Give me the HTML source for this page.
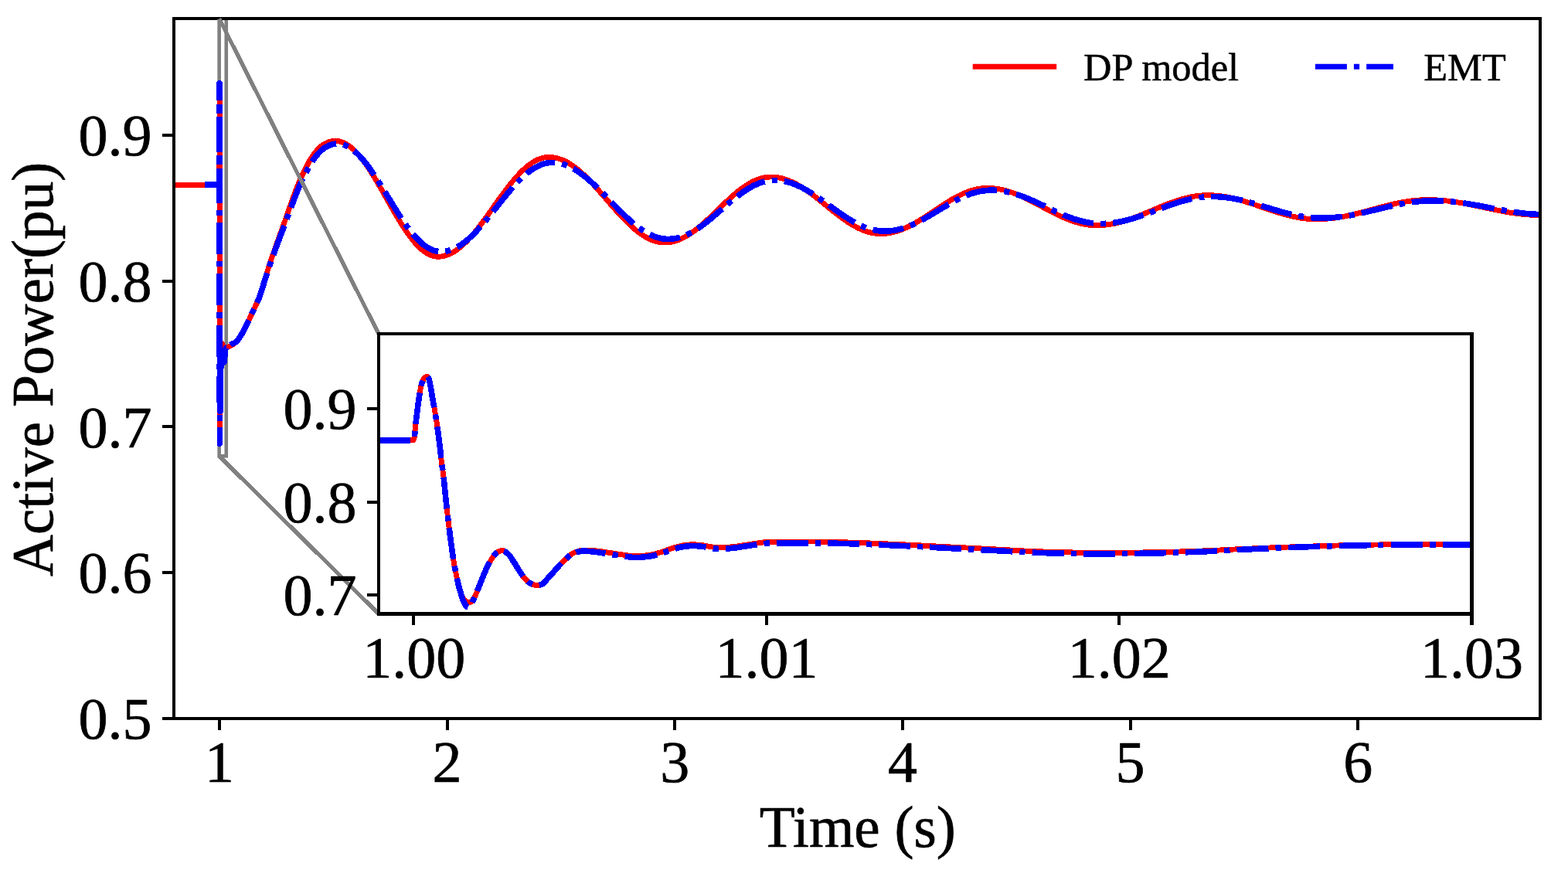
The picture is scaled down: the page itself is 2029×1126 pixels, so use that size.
<!DOCTYPE html>
<html lang="en">
<head>
<meta charset="utf-8">
<title>Active Power - DP model vs EMT</title>
<style>
html,body{margin:0;padding:0;background:#fff;}
body{width:2029px;height:1126px;overflow:hidden;}
svg{display:block;}
</style>
</head>
<body>
<svg width="2029" height="1126" viewBox="0 0 2029 1126">
<defs>
<clipPath id="cm"><rect x="225.0" y="24.0" width="1768.0" height="906.0"/></clipPath>
<clipPath id="ci"><rect x="490.0" y="432.0" width="1414.5" height="362.5"/></clipPath>
</defs>
<rect width="2029" height="1126" fill="#fff"/>
<g clip-path="url(#cm)"><rect x="283.64" y="24.00" width="9.13" height="566.25" fill="none" stroke="#808080" stroke-width="4.6"/></g>
<g clip-path="url(#cm)" fill="none" stroke-linejoin="round" shape-rendering="crispEdges">
<path d="M222.00,239.17L283.84,239.17L283.84,239.25L283.92,239.25L283.93,239.25L283.93,238.93L283.93,237.67L283.94,235.64L283.94,231.55L283.94,221.71L283.95,212.55L283.95,205.71L283.95,199.46L283.95,193.37L283.96,187.09L283.96,180.73L283.96,174.43L283.97,168.33L283.97,162.54L283.97,156.90L283.98,151.35L283.98,146.13L283.98,141.47L283.99,137.47L283.99,133.73L283.99,130.22L284.00,126.99L284.00,124.09L284.00,121.57L284.01,119.40L284.01,117.34L284.01,115.43L284.02,113.70L284.02,112.24L284.02,111.09L284.02,110.26L284.03,109.51L284.03,108.86L284.03,108.32L284.04,107.94L284.04,107.74L284.04,107.81L284.05,108.34L284.05,109.27L284.05,110.49L284.06,111.91L284.06,114.12L284.06,117.36L284.07,121.21L284.07,125.28L284.07,129.34L284.08,133.86L284.08,138.74L284.08,143.79L284.09,148.83L284.09,153.68L284.09,158.21L284.09,162.55L284.10,166.79L284.10,170.99L284.10,175.21L284.11,179.53L284.11,183.97L284.11,188.43L284.12,192.97L284.12,197.69L284.12,202.65L284.13,207.95L284.13,213.53L284.13,219.31L284.14,225.19L284.14,231.10L284.14,237.06L284.15,243.16L284.15,249.43L284.15,255.93L284.16,262.99L284.16,270.43L284.16,277.69L284.16,284.22L284.17,289.88L284.17,295.10L284.17,300.35L284.18,306.10L284.18,312.53L284.18,319.44L284.19,326.71L284.19,334.25L284.19,341.97L284.20,349.75L284.20,357.50L284.20,365.12L284.21,372.50L284.21,379.56L284.21,386.39L284.22,393.12L284.22,399.73L284.22,406.21L284.23,412.56L284.23,418.76L284.23,424.80L284.23,430.69L284.24,436.47L284.24,442.16L284.24,447.78L284.25,453.36L284.25,459.00L284.25,464.66L284.26,470.25L284.26,475.67L284.26,480.82L284.27,485.62L284.27,490.12L284.27,494.45L284.28,498.61L284.28,502.61L284.28,506.47L284.29,510.19L284.29,513.78L284.29,517.29L284.30,520.76L284.30,524.17L284.30,527.51L284.30,530.74L284.31,533.83L284.31,536.75L284.31,539.48L284.32,541.98L284.32,544.29L284.32,546.55L284.33,548.77L284.33,550.91L284.33,552.93L284.34,554.81L284.34,556.52L284.34,558.01L284.35,559.26L284.35,560.24L284.35,561.06L284.36,561.86L284.36,562.63L284.36,563.37L284.37,564.07L284.37,564.72L284.37,565.32L284.37,565.86L284.38,566.34L284.38,566.76L284.38,567.10L284.39,567.36L284.39,567.54L284.39,567.62L284.40,567.60L284.40,567.39L284.40,567.02L284.41,566.49L284.41,565.83L284.41,565.06L284.42,564.19L284.42,563.24L284.42,562.23L284.43,561.17L284.43,560.09L284.43,559.00L284.44,557.92L284.44,556.75L284.44,555.39L284.44,553.86L284.45,552.21L284.45,550.44L284.45,548.60L284.46,546.69L284.46,544.75L284.46,542.81L284.47,540.89L284.47,539.01L284.47,537.18L284.48,535.31L284.48,533.40L284.48,531.46L284.49,529.50L284.49,527.52L284.49,525.55L284.50,523.57L284.50,521.62L284.50,519.68L284.51,517.77L284.51,515.91L284.51,514.08L284.51,512.25L284.52,510.43L284.52,508.61L284.52,506.81L284.53,505.02L284.53,503.26L284.53,501.53L284.54,499.83L284.54,498.18L284.54,496.56L284.55,495.00L284.55,493.48L284.55,491.99L284.56,490.52L284.56,489.07L284.56,487.65L284.57,486.26L284.57,484.90L284.57,483.58L284.58,482.29L284.58,481.05L284.58,479.84L284.59,478.68L284.59,477.55L284.59,476.40L284.59,475.25L284.60,474.11L284.60,472.99L284.60,471.90L284.61,470.86L284.61,469.89L284.61,468.99L284.62,468.18L284.62,467.48L284.62,466.89L284.63,466.40L284.63,465.93L284.63,465.48L284.64,465.03L284.64,464.60L284.64,464.19L284.65,463.81L284.65,463.46L284.65,463.13L284.66,462.85L284.66,462.60L284.66,462.40L284.66,462.24L284.67,462.14L284.67,462.09L284.67,462.10L284.68,462.21L284.68,462.40L284.68,462.67L284.69,463.02L284.69,463.42L284.69,463.89L284.70,464.40L284.70,464.96L284.70,465.55L284.71,466.17L284.71,466.81L284.71,467.46L284.72,468.12L284.72,468.77L284.72,469.44L284.73,470.20L284.73,471.05L284.73,471.98L284.73,472.98L284.74,474.04L284.74,475.15L284.74,476.31L284.75,477.50L284.75,478.71L284.75,479.93L284.76,481.15L284.76,482.37L284.76,483.58L284.77,484.76L284.77,485.92L284.77,487.10L284.78,488.31L284.78,489.54L284.78,490.79L284.79,492.05L284.79,493.32L284.79,494.59L284.80,495.87L284.80,497.13L284.80,498.39L284.80,499.63L284.81,500.86L284.81,502.06L284.81,503.24L284.82,504.40L284.82,505.56L284.82,506.74L284.83,507.93L284.83,509.11L284.83,510.28L284.84,511.44L284.84,512.59L284.84,513.70L284.85,514.79L284.85,515.84L284.85,516.84L284.86,517.80L284.86,518.70L284.86,519.54L284.87,520.33L284.87,521.10L284.87,521.86L284.87,522.61L284.88,523.33L284.88,524.04L284.88,524.72L284.89,525.38L284.89,526.00L284.89,526.59L284.90,527.14L284.90,527.66L284.90,528.13L284.91,528.56L284.91,528.94L284.91,529.28L284.92,529.62L284.92,529.95L284.92,530.28L284.93,530.60L284.93,530.90L284.93,531.19L284.94,531.46L284.94,531.71L284.94,531.93L284.94,532.12L284.95,532.28L284.95,532.40L284.95,532.48L284.96,532.52L284.96,532.52L284.96,532.49L284.97,532.44L284.97,532.36L284.97,532.26L284.98,532.14L284.98,532.00L284.98,531.85L284.99,531.67L284.99,531.48L284.99,531.27L285.00,531.05L285.00,530.81L285.00,530.56L285.01,530.31L285.01,530.00L285.01,529.53L285.01,528.92L285.02,528.18L285.02,527.34L285.02,526.42L285.03,525.46L285.03,524.47L285.03,523.48L285.04,522.51L285.04,521.59L285.04,520.74L285.05,519.91L285.05,519.08L285.05,518.24L285.06,517.39L285.06,516.55L285.06,515.70L285.07,514.85L285.07,513.99L285.07,513.14L285.08,512.29L285.08,511.43L285.08,510.58L285.08,509.73L285.09,508.88L285.09,508.03L285.09,507.18L285.10,506.32L285.10,505.46L285.10,504.59L285.11,503.71L285.11,502.84L285.11,501.96L285.12,501.07L285.12,500.19L285.12,499.31L285.13,498.42L285.13,497.54L285.13,496.66L285.14,495.78L285.14,494.90L285.14,494.03L285.15,493.17L285.15,492.30L285.15,491.45L285.15,490.60L285.16,489.76L285.16,488.93L285.16,488.10L285.17,487.29L285.17,486.49L285.17,485.69L285.18,484.91L285.18,484.15L285.18,483.39L285.19,482.65L285.19,481.91L285.19,481.16L285.20,480.41L285.20,479.66L285.20,478.92L285.21,478.17L285.21,477.43L285.21,476.70L285.22,475.98L285.22,475.27L285.22,474.58L285.22,473.90L285.23,473.24L285.23,472.60L285.23,471.99L285.24,471.39L285.24,470.83L285.24,470.29L285.25,469.79L285.25,469.32L285.25,468.88L285.26,468.46L285.26,468.05L285.26,467.64L285.27,467.25L285.27,466.87L285.27,466.50L285.28,466.14L285.28,465.79L285.28,465.46L285.29,465.14L285.29,464.83L285.29,464.55L285.29,464.27L285.30,464.02L285.30,463.78L285.30,463.56L285.31,463.36L285.31,463.18L285.31,463.01L285.32,462.83L285.32,462.65L285.32,462.48L285.33,462.32L285.33,462.16L285.33,462.01L285.34,461.87L285.34,461.75L285.34,461.64L285.35,461.55L285.35,461.48L285.35,461.42L285.36,461.39L285.36,461.39L285.36,461.39L285.37,461.40L285.37,461.41L285.37,461.43L285.37,461.45L285.38,461.48L285.38,461.50L285.38,461.53L285.39,461.57L285.39,461.60L285.39,461.64L285.40,461.68L285.40,461.73L285.40,461.77L285.41,461.81L285.41,461.86L285.41,461.91L285.42,461.95L285.42,462.00L285.42,462.05L285.43,462.10L285.43,462.15L285.43,462.20L285.44,462.26L285.44,462.33L285.44,462.39L285.44,462.47L285.45,462.54L285.45,462.62L285.45,462.70L285.46,462.79L285.46,462.88L285.46,462.97L285.47,463.06L285.47,463.16L285.47,463.26L285.48,463.36L285.48,463.47L285.48,463.57L285.49,463.68L285.49,463.79L285.49,463.91L285.50,464.02L285.50,464.14L285.50,464.25L285.51,464.37L285.51,464.49L285.51,464.61L285.54,465.55L285.56,466.47L285.59,467.35L285.61,468.29L285.64,469.22L285.66,470.08L285.69,470.93L285.71,471.85L285.73,472.71L285.76,473.35L285.78,473.63L285.81,473.51L285.83,473.13L285.86,472.56L285.88,471.86L285.91,471.08L285.93,469.89L285.96,468.31L285.98,466.55L286.01,464.74L286.03,462.61L286.06,460.34L286.08,458.22L286.11,456.41L286.13,454.65L286.16,453.08L286.18,451.90L286.21,451.12L286.23,450.47L286.26,450.10L286.28,450.16L286.31,450.56L286.33,451.16L286.36,451.85L286.38,453.01L286.41,454.35L286.43,455.23L286.46,455.76L286.48,456.16L286.50,456.31L286.53,456.12L286.55,455.67L286.58,455.05L286.60,454.37L286.63,453.68L286.65,452.83L286.68,451.87L286.70,450.90L286.73,449.98L286.75,449.02L286.78,448.08L286.80,447.25L286.83,446.48L286.85,445.69L286.88,445.05L286.90,444.76L286.93,444.80L286.95,444.82L286.98,444.80L287.00,444.77L287.03,444.71L287.05,444.65L287.08,444.58L287.10,444.51L287.13,444.43L287.15,444.36L287.18,444.30L287.20,444.25L287.23,444.21L287.25,444.20L287.27,444.21L287.30,444.25L287.32,444.33L287.35,444.43L287.37,444.55L287.40,444.69L287.42,444.84L287.45,444.99L287.47,445.15L287.50,445.31L287.52,445.47L287.55,445.63L287.57,445.80L287.60,445.98L287.62,446.18L287.65,446.38L287.67,446.60L287.70,446.82L287.72,447.05L287.75,447.29L287.77,447.53L287.80,447.78L287.82,448.03L287.85,448.29L287.87,448.54L287.90,448.80L287.92,449.06L287.95,449.32L287.97,449.58L288.00,449.85L288.02,450.12L288.04,450.41L288.07,450.70L288.09,450.99L288.12,451.29L288.14,451.59L288.17,451.90L288.19,452.21L288.22,452.52L288.24,452.83L288.27,453.15L288.29,453.46L288.32,453.78L288.34,454.09L288.37,454.40L288.39,454.71L288.42,455.02L288.44,455.33L288.47,455.63L288.49,455.94L288.52,456.25L288.54,456.56L288.57,456.87L288.59,457.19L288.62,457.50L288.64,457.81L288.67,458.12L288.69,458.43L288.72,458.73L288.74,459.04L288.77,459.35L288.79,459.67L288.81,459.99L288.84,460.33L288.86,460.66L288.89,461.00L288.91,461.34L288.94,461.67L288.96,462.00L288.99,462.33L289.01,462.64L289.04,462.94L289.06,463.23L289.09,463.50L289.11,463.75L289.14,463.98L289.16,464.19L289.19,464.37L289.21,464.55L289.24,464.72L289.26,464.90L289.29,465.07L289.31,465.24L289.34,465.41L289.36,465.57L289.39,465.72L289.41,465.87L289.44,466.01L289.46,466.14L289.49,466.26L289.51,466.36L289.54,466.46L289.56,466.54L289.58,466.60L289.61,466.65L289.63,466.68L289.66,466.69L289.68,466.69L289.71,466.67L289.73,466.66L289.76,466.63L289.78,466.59L289.81,466.55L289.83,466.51L289.86,466.45L289.88,466.40L289.91,466.33L289.93,466.27L289.96,466.20L289.98,466.12L290.01,466.04L290.03,465.96L290.06,465.88L290.08,465.80L290.11,465.71L290.13,465.62L290.16,465.53L290.18,465.43L290.21,465.30L290.23,465.17L290.26,465.02L290.28,464.85L290.31,464.68L290.33,464.50L290.35,464.31L290.38,464.11L290.40,463.90L290.43,463.69L290.45,463.47L290.48,463.25L290.50,463.03L290.53,462.81L290.55,462.58L290.58,462.35L290.60,462.09L290.63,461.81L290.65,461.53L290.68,461.23L290.70,460.92L290.73,460.61L290.75,460.29L290.78,459.98L290.80,459.67L290.83,459.37L290.85,459.07L290.88,458.79L290.90,458.53L290.93,458.27L290.95,458.01L290.98,457.75L291.00,457.49L291.03,457.24L291.05,456.99L291.08,456.74L291.10,456.49L291.12,456.25L291.15,456.01L291.17,455.77L291.20,455.54L291.22,455.31L291.25,455.09L291.27,454.87L291.30,454.66L291.32,454.45L291.35,454.25L291.37,454.05L291.40,453.86L291.42,453.67L291.45,453.47L291.47,453.28L291.50,453.09L291.52,452.90L291.55,452.71L291.57,452.53L291.60,452.35L291.62,452.17L291.65,452.00L291.67,451.84L291.70,451.69L291.72,451.54L291.75,451.40L291.77,451.27L291.80,451.15L291.82,451.04L291.85,450.94L291.87,450.85L291.89,450.76L291.92,450.67L291.94,450.58L291.97,450.49L291.99,450.41L292.02,450.32L292.04,450.24L292.07,450.17L292.09,450.09L292.12,450.02L292.14,449.96L292.17,449.90L292.19,449.84L292.22,449.80L292.24,449.75L292.27,449.72L292.29,449.69L292.32,449.68L292.34,449.67L292.37,449.66L292.39,449.66L292.42,449.66L292.44,449.66L292.47,449.66L292.49,449.66L292.52,449.66L292.54,449.66L292.57,449.66L292.59,449.66L292.62,449.66L292.64,449.66L292.66,449.66L292.69,449.66L292.71,449.66L292.74,449.66L292.76,449.66L293.47,449.71L294.18,449.47L294.89,449.20L295.60,448.92L296.31,448.62L297.02,448.30L297.73,447.97L298.44,447.62L299.15,447.25L299.86,446.85L300.57,446.42L301.27,445.95L301.98,445.46L302.69,444.93L303.40,444.37L304.11,443.77L304.82,443.14L305.53,442.46L306.24,441.72L306.95,440.90L307.66,440.02L308.37,439.09L309.08,438.11L309.79,437.10L310.49,436.07L311.20,434.97L311.91,433.83L312.62,432.64L313.33,431.41L314.04,430.15L314.75,428.87L315.46,427.57L316.17,426.26L316.88,424.92L317.59,423.54L318.30,422.13L319.01,420.69L319.71,419.23L320.42,417.75L321.13,416.27L321.84,414.78L322.55,413.27L323.26,411.73L323.97,410.18L324.68,408.63L325.39,407.07L326.10,405.52L326.81,403.98L327.52,402.48L328.23,401.00L328.93,399.53L329.64,398.06L330.35,396.57L331.06,395.04L331.77,393.48L332.48,391.85L333.19,390.20L333.90,388.52L334.61,386.79L335.32,384.99L336.03,383.10L336.74,381.11L337.45,378.90L338.15,376.54L338.86,374.12L339.57,371.76L340.28,369.46L340.99,367.15L341.70,364.85L342.41,362.55L343.12,360.27L343.83,357.99L344.54,355.73L345.25,353.48L345.96,351.25L346.67,349.03L347.37,346.81L348.08,344.61L348.79,342.42L349.50,340.25L350.21,338.10L350.92,335.98L351.63,333.88L352.34,331.80L353.05,329.74L353.76,327.69L354.47,325.66L355.18,323.65L355.89,321.64L356.59,319.65L357.30,317.66L358.01,315.68L358.72,313.71L359.43,311.75L360.14,309.79L360.85,307.83L361.56,305.87L362.27,303.92L362.98,301.96L363.69,299.99L364.40,298.03L365.11,296.06L365.81,294.08L366.52,292.09L367.23,290.09L367.94,288.08L368.65,286.05L369.36,284.01L370.07,281.96L370.78,279.91L371.49,277.87L372.20,275.83L372.91,273.82L373.62,271.83L374.33,269.86L375.03,267.88L375.74,265.90L376.45,263.90L377.16,261.91L377.87,259.92L378.58,257.94L379.29,255.96L380.00,253.99L380.71,252.04L381.42,250.10L382.13,248.18L382.84,246.28L383.54,244.41L384.25,242.57L384.96,240.75L385.67,238.98L386.38,237.23L387.09,235.53L387.80,233.87L388.51,232.25L389.22,230.70L389.93,229.20L390.64,227.76L391.35,226.35L392.06,224.96L392.76,223.59L393.47,222.21L394.18,220.83L394.89,219.42L395.60,217.97L396.31,216.48L397.02,214.96L397.73,213.45L398.44,211.98L399.15,210.57L399.86,209.25L400.57,208.02L401.28,206.83L401.98,205.67L402.69,204.53L403.40,203.44L404.11,202.37L404.82,201.34L405.53,200.35L406.24,199.39L406.95,198.47L407.66,197.59L408.37,196.74L409.08,195.90L409.79,195.08L410.50,194.27L411.20,193.47L411.91,192.70L412.62,191.95L413.33,191.23L414.04,190.55L414.75,189.89L415.46,189.27L416.17,188.69L416.88,188.16L417.59,187.67L418.30,187.22L419.01,186.78L419.72,186.36L420.42,185.95L421.13,185.56L421.84,185.19L422.55,184.85L423.26,184.53L423.97,184.24L424.68,183.99L425.39,183.76L426.10,183.58L426.81,183.40L427.52,183.23L428.23,183.07L428.94,182.92L429.64,182.78L430.35,182.65L431.06,182.53L431.77,182.44L432.48,182.37L433.19,182.32L433.90,182.30L435.64,182.36L437.38,182.55L439.12,182.87L440.86,183.31L442.60,183.88L444.35,184.57L446.09,185.38L447.83,186.31L449.57,187.37L451.31,188.54L453.05,189.83L454.79,191.23L456.53,192.74L458.27,194.36L460.01,196.09L461.75,197.92L463.50,199.86L465.24,201.88L466.98,204.01L468.72,206.22L470.46,208.52L472.20,210.90L473.94,213.36L475.68,215.89L477.42,218.49L479.16,221.16L480.91,223.89L482.65,226.67L484.39,229.51L486.13,232.39L487.87,235.32L489.61,238.28L491.35,241.28L493.09,244.30L494.83,247.34L496.57,250.40L498.31,253.47L500.06,256.55L501.80,259.63L503.54,262.71L505.28,265.77L507.02,268.82L508.76,271.86L510.50,274.86L512.24,277.84L513.98,280.79L515.72,283.69L517.46,286.55L519.21,289.36L520.95,292.11L522.69,294.81L524.43,297.44L526.17,300.01L527.91,302.50L529.65,304.91L531.39,307.25L533.13,309.50L534.87,311.67L536.62,313.74L538.36,315.71L540.10,317.59L541.84,319.37L543.58,321.04L545.32,322.60L547.06,324.05L548.80,325.39L550.54,326.62L552.28,327.72L554.02,328.71L555.77,329.58L557.51,330.33L559.25,330.95L560.99,331.45L562.73,331.82L564.47,332.07L566.21,332.19L567.95,332.19L569.69,332.09L571.43,331.90L573.17,331.61L574.92,331.23L576.66,330.76L578.40,330.20L580.14,329.55L581.88,328.81L583.62,327.98L585.36,327.06L587.10,326.06L588.84,324.97L590.58,323.79L592.33,322.54L594.07,321.21L595.81,319.80L597.55,318.31L599.29,316.75L601.03,315.12L602.77,313.42L604.51,311.65L606.25,309.82L607.99,307.93L609.73,305.98L611.48,303.97L613.22,301.92L614.96,299.81L616.70,297.65L618.44,295.46L620.18,293.22L621.92,290.94L623.66,288.64L625.40,286.30L627.14,283.93L628.88,281.54L630.63,279.13L632.37,276.71L634.11,274.27L635.85,271.82L637.59,269.37L639.33,266.91L641.07,264.46L642.81,262.01L644.55,259.56L646.29,257.14L648.03,254.72L649.78,252.33L651.52,249.95L653.26,247.61L655.00,245.29L656.74,243.01L658.48,240.76L660.22,238.55L661.96,236.38L663.70,234.26L665.44,232.19L667.19,230.17L668.93,228.20L670.67,226.30L672.41,224.45L674.15,222.66L675.89,220.95L677.63,219.29L679.37,217.71L681.11,216.21L682.85,214.78L684.59,213.42L686.34,212.14L688.08,210.95L689.82,209.84L691.56,208.81L693.30,207.87L695.04,207.01L696.78,206.25L698.52,205.57L700.26,204.98L702.00,204.49L703.74,204.08L705.49,203.77L707.23,203.56L708.97,203.43L710.71,203.40L712.45,203.45L714.19,203.57L715.93,203.77L717.67,204.04L719.41,204.39L721.15,204.80L722.90,205.29L724.64,205.85L726.38,206.48L728.12,207.17L729.86,207.94L731.60,208.78L733.34,209.68L735.08,210.64L736.82,211.68L738.56,212.77L740.30,213.92L742.05,215.14L743.79,216.41L745.53,217.74L747.27,219.12L749.01,220.56L750.75,222.05L752.49,223.58L754.23,225.16L755.97,226.79L757.71,228.46L759.45,230.17L761.20,231.92L762.94,233.70L764.68,235.52L766.42,237.37L768.16,239.25L769.90,241.15L771.64,243.08L773.38,245.02L775.12,246.99L776.86,248.97L778.61,250.96L780.35,252.96L782.09,254.98L783.83,256.99L785.57,259.01L787.31,261.03L789.05,263.05L790.79,265.05L792.53,267.06L794.27,269.05L796.01,271.02L797.76,272.98L799.50,274.92L801.24,276.84L802.98,278.74L804.72,280.60L806.46,282.44L808.20,284.25L809.94,286.02L811.68,287.76L813.42,289.46L815.16,291.11L816.91,292.73L818.65,294.30L820.39,295.82L822.13,297.29L823.87,298.71L825.61,300.08L827.35,301.39L829.09,302.64L830.83,303.84L832.57,304.98L834.31,306.05L836.06,307.06L837.80,308.01L839.54,308.89L841.28,309.70L843.02,310.45L844.76,311.13L846.50,311.73L848.24,312.27L849.98,312.74L851.72,313.13L853.47,313.45L855.21,313.70L856.95,313.87L858.69,313.97L860.43,314.00L862.17,313.96L863.91,313.85L865.65,313.67L867.39,313.43L869.13,313.12L870.87,312.74L872.62,312.30L874.36,311.80L876.10,311.23L877.84,310.60L879.58,309.90L881.32,309.15L883.06,308.33L884.80,307.46L886.54,306.53L888.28,305.55L890.02,304.51L891.77,303.42L893.51,302.28L895.25,301.09L896.99,299.85L898.73,298.57L900.47,297.24L902.21,295.88L903.95,294.48L905.69,293.04L907.43,291.56L909.18,290.06L910.92,288.52L912.66,286.96L914.40,285.37L916.14,283.76L917.88,282.14L919.62,280.49L921.36,278.83L923.10,277.16L924.84,275.48L926.58,273.80L928.33,272.11L930.07,270.42L931.81,268.73L933.55,267.04L935.29,265.37L937.03,263.70L938.77,262.04L940.51,260.40L942.25,258.78L943.99,257.18L945.73,255.60L947.48,254.04L949.22,252.52L950.96,251.02L952.70,249.55L954.44,248.12L956.18,246.73L957.92,245.38L959.66,244.07L961.40,242.80L963.14,241.57L964.88,240.40L966.63,239.27L968.37,238.19L970.11,237.17L971.85,236.20L973.59,235.29L975.33,234.43L977.07,233.63L978.81,232.90L980.55,232.22L982.29,231.61L984.04,231.05L985.78,230.57L987.52,230.15L989.26,229.79L991.00,229.50L992.74,229.27L994.48,229.11L996.22,229.02L997.96,229.00L999.70,229.04L1001.44,229.13L1003.19,229.27L1004.93,229.47L1006.67,229.72L1008.41,230.03L1010.15,230.39L1011.89,230.80L1013.63,231.26L1015.37,231.78L1017.11,232.34L1018.85,232.96L1020.59,233.62L1022.34,234.33L1024.08,235.09L1025.82,235.89L1027.56,236.74L1029.30,237.63L1031.04,238.57L1032.78,239.54L1034.52,240.55L1036.26,241.60L1038.00,242.69L1039.75,243.81L1041.49,244.96L1043.23,246.14L1044.97,247.35L1046.71,248.59L1048.45,249.86L1050.19,251.15L1051.93,252.46L1053.67,253.79L1055.41,255.14L1057.15,256.50L1058.90,257.88L1060.64,259.27L1062.38,260.67L1064.12,262.08L1065.86,263.49L1067.60,264.90L1069.34,266.32L1071.08,267.74L1072.82,269.15L1074.56,270.56L1076.30,271.96L1078.05,273.35L1079.79,274.74L1081.53,276.10L1083.27,277.46L1085.01,278.79L1086.75,280.11L1088.49,281.40L1090.23,282.68L1091.97,283.92L1093.71,285.14L1095.46,286.33L1097.20,287.49L1098.94,288.62L1100.68,289.72L1102.42,290.78L1104.16,291.80L1105.90,292.78L1107.64,293.73L1109.38,294.63L1111.12,295.49L1112.86,296.30L1114.61,297.07L1116.35,297.80L1118.09,298.47L1119.83,299.10L1121.57,299.68L1123.31,300.21L1125.05,300.68L1126.79,301.11L1128.53,301.48L1130.27,301.80L1132.01,302.07L1133.76,302.28L1135.50,302.44L1137.24,302.55L1138.98,302.60L1140.72,302.59L1142.46,302.54L1144.20,302.44L1145.94,302.30L1147.68,302.11L1149.42,301.88L1151.16,301.60L1152.91,301.27L1154.65,300.90L1156.39,300.49L1158.13,300.03L1159.87,299.53L1161.61,298.99L1163.35,298.41L1165.09,297.79L1166.83,297.13L1168.57,296.43L1170.32,295.70L1172.06,294.93L1173.80,294.12L1175.54,293.28L1177.28,292.41L1179.02,291.51L1180.76,290.58L1182.50,289.63L1184.24,288.64L1185.98,287.63L1187.72,286.60L1189.47,285.55L1191.21,284.48L1192.95,283.39L1194.69,282.28L1196.43,281.16L1198.17,280.03L1199.91,278.88L1201.65,277.73L1203.39,276.57L1205.13,275.40L1206.87,274.23L1208.62,273.06L1210.36,271.88L1212.10,270.71L1213.84,269.55L1215.58,268.38L1217.32,267.23L1219.06,266.08L1220.80,264.95L1222.54,263.83L1224.28,262.72L1226.03,261.63L1227.77,260.55L1229.51,259.50L1231.25,258.46L1232.99,257.45L1234.73,256.47L1236.47,255.51L1238.21,254.58L1239.95,253.67L1241.69,252.80L1243.43,251.96L1245.18,251.15L1246.92,250.38L1248.66,249.64L1250.40,248.94L1252.14,248.27L1253.88,247.65L1255.62,247.06L1257.36,246.52L1259.10,246.01L1260.84,245.55L1262.58,245.14L1264.33,244.76L1266.07,244.43L1267.81,244.15L1269.55,243.91L1271.29,243.71L1273.03,243.57L1274.77,243.47L1276.51,243.41L1278.25,243.40L1279.99,243.43L1281.74,243.50L1283.48,243.60L1285.22,243.74L1286.96,243.91L1288.70,244.12L1290.44,244.36L1292.18,244.64L1293.92,244.95L1295.66,245.30L1297.40,245.68L1299.14,246.09L1300.89,246.53L1302.63,247.01L1304.37,247.52L1306.11,248.05L1307.85,248.62L1309.59,249.21L1311.33,249.83L1313.07,250.48L1314.81,251.16L1316.55,251.85L1318.29,252.57L1320.04,253.32L1321.78,254.08L1323.52,254.87L1325.26,255.67L1327.00,256.50L1328.74,257.33L1330.48,258.19L1332.22,259.06L1333.96,259.94L1335.70,260.83L1337.44,261.73L1339.19,262.64L1340.93,263.56L1342.67,264.48L1344.41,265.41L1346.15,266.34L1347.89,267.28L1349.63,268.21L1351.37,269.14L1353.11,270.07L1354.85,271.00L1356.60,271.92L1358.34,272.84L1360.08,273.75L1361.82,274.64L1363.56,275.53L1365.30,276.41L1367.04,277.27L1368.78,278.12L1370.52,278.95L1372.26,279.76L1374.00,280.56L1375.75,281.34L1377.49,282.09L1379.23,282.83L1380.97,283.54L1382.71,284.23L1384.45,284.89L1386.19,285.53L1387.93,286.14L1389.67,286.72L1391.41,287.27L1393.15,287.80L1394.90,288.29L1396.64,288.75L1398.38,289.19L1400.12,289.58L1401.86,289.95L1403.60,290.28L1405.34,290.58L1407.08,290.84L1408.82,291.07L1410.56,291.27L1412.31,291.43L1414.05,291.55L1415.79,291.63L1417.53,291.69L1419.27,291.70L1421.01,291.68L1422.75,291.64L1424.49,291.57L1426.23,291.46L1427.97,291.34L1429.71,291.18L1431.46,290.99L1433.20,290.78L1434.94,290.55L1436.68,290.28L1438.42,289.99L1440.16,289.67L1441.90,289.33L1443.64,288.97L1445.38,288.58L1447.12,288.16L1448.86,287.73L1450.61,287.27L1452.35,286.78L1454.09,286.28L1455.83,285.76L1457.57,285.22L1459.31,284.66L1461.05,284.08L1462.79,283.48L1464.53,282.87L1466.27,282.24L1468.02,281.60L1469.76,280.94L1471.50,280.27L1473.24,279.59L1474.98,278.90L1476.72,278.20L1478.46,277.49L1480.20,276.78L1481.94,276.05L1483.68,275.32L1485.42,274.59L1487.17,273.85L1488.91,273.11L1490.65,272.37L1492.39,271.63L1494.13,270.89L1495.87,270.15L1497.61,269.42L1499.35,268.69L1501.09,267.96L1502.83,267.24L1504.57,266.53L1506.32,265.82L1508.06,265.13L1509.80,264.44L1511.54,263.77L1513.28,263.10L1515.02,262.45L1516.76,261.82L1518.50,261.20L1520.24,260.60L1521.98,260.01L1523.72,259.44L1525.47,258.89L1527.21,258.36L1528.95,257.84L1530.69,257.35L1532.43,256.88L1534.17,256.44L1535.91,256.01L1537.65,255.61L1539.39,255.23L1541.13,254.88L1542.88,254.55L1544.62,254.25L1546.36,253.97L1548.10,253.72L1549.84,253.50L1551.58,253.30L1553.32,253.13L1555.06,252.99L1556.80,252.88L1558.54,252.79L1560.28,252.73L1562.03,252.70L1563.77,252.70L1565.51,252.72L1567.25,252.77L1568.99,252.84L1570.73,252.93L1572.47,253.05L1574.21,253.18L1575.95,253.35L1577.69,253.53L1579.43,253.73L1581.18,253.96L1582.92,254.21L1584.66,254.48L1586.40,254.77L1588.14,255.09L1589.88,255.42L1591.62,255.77L1593.36,256.14L1595.10,256.52L1596.84,256.93L1598.59,257.35L1600.33,257.79L1602.07,258.25L1603.81,258.72L1605.55,259.20L1607.29,259.70L1609.03,260.21L1610.77,260.73L1612.51,261.27L1614.25,261.81L1615.99,262.37L1617.74,262.93L1619.48,263.50L1621.22,264.08L1622.96,264.66L1624.70,265.25L1626.44,265.85L1628.18,266.45L1629.92,267.05L1631.66,267.65L1633.40,268.25L1635.14,268.86L1636.89,269.46L1638.63,270.06L1640.37,270.66L1642.11,271.25L1643.85,271.84L1645.59,272.42L1647.33,273.00L1649.07,273.57L1650.81,274.13L1652.55,274.68L1654.29,275.23L1656.04,275.76L1657.78,276.28L1659.52,276.79L1661.26,277.29L1663.00,277.77L1664.74,278.23L1666.48,278.69L1668.22,279.12L1669.96,279.54L1671.70,279.94L1673.45,280.33L1675.19,280.70L1676.93,281.04L1678.67,281.37L1680.41,281.68L1682.15,281.97L1683.89,282.23L1685.63,282.48L1687.37,282.70L1689.11,282.90L1690.85,283.08L1692.60,283.24L1694.34,283.38L1696.08,283.49L1697.82,283.58L1699.56,283.64L1701.30,283.68L1703.04,283.70L1704.78,283.70L1706.52,283.67L1708.26,283.63L1710.00,283.57L1711.75,283.50L1713.49,283.40L1715.23,283.29L1716.97,283.16L1718.71,283.02L1720.45,282.86L1722.19,282.68L1723.93,282.48L1725.67,282.27L1727.41,282.04L1729.16,281.79L1730.90,281.53L1732.64,281.26L1734.38,280.97L1736.12,280.67L1737.86,280.35L1739.60,280.02L1741.34,279.68L1743.08,279.32L1744.82,278.95L1746.56,278.58L1748.31,278.19L1750.05,277.79L1751.79,277.38L1753.53,276.96L1755.27,276.54L1757.01,276.10L1758.75,275.66L1760.49,275.22L1762.23,274.76L1763.97,274.31L1765.71,273.84L1767.46,273.38L1769.20,272.91L1770.94,272.44L1772.68,271.96L1774.42,271.49L1776.16,271.01L1777.90,270.54L1779.64,270.06L1781.38,269.59L1783.12,269.12L1784.87,268.65L1786.61,268.18L1788.35,267.72L1790.09,267.27L1791.83,266.82L1793.57,266.38L1795.31,265.94L1797.05,265.51L1798.79,265.09L1800.53,264.68L1802.27,264.28L1804.02,263.88L1805.76,263.50L1807.50,263.13L1809.24,262.77L1810.98,262.42L1812.72,262.09L1814.46,261.76L1816.20,261.45L1817.94,261.16L1819.68,260.88L1821.42,260.61L1823.17,260.36L1824.91,260.13L1826.65,259.91L1828.39,259.70L1830.13,259.52L1831.87,259.35L1833.61,259.19L1835.35,259.06L1837.09,258.94L1838.83,258.84L1840.57,258.75L1842.32,258.69L1844.06,258.64L1845.80,258.61L1847.54,258.60L1849.28,258.61L1851.02,258.62L1852.76,258.66L1854.50,258.70L1856.24,258.77L1857.98,258.84L1859.73,258.93L1861.47,259.03L1863.21,259.15L1864.95,259.28L1866.69,259.42L1868.43,259.57L1870.17,259.74L1871.91,259.92L1873.65,260.12L1875.39,260.32L1877.13,260.54L1878.88,260.77L1880.62,261.00L1882.36,261.25L1884.10,261.51L1885.84,261.78L1887.58,262.06L1889.32,262.35L1891.06,262.65L1892.80,262.96L1894.54,263.27L1896.28,263.59L1898.03,263.92L1899.77,264.25L1901.51,264.60L1903.25,264.94L1904.99,265.29L1906.73,265.65L1908.47,266.01L1910.21,266.37L1911.95,266.74L1913.69,267.11L1915.44,267.48L1917.18,267.86L1918.92,268.23L1920.66,268.61L1922.40,268.98L1924.14,269.35L1925.88,269.73L1927.62,270.10L1929.36,270.47L1931.10,270.83L1932.84,271.20L1934.59,271.56L1936.33,271.91L1938.07,272.26L1939.81,272.61L1941.55,272.95L1943.29,273.28L1945.03,273.61L1946.77,273.92L1948.51,274.24L1950.25,274.54L1951.99,274.83L1953.74,275.12L1955.48,275.40L1957.22,275.66L1958.96,275.92L1960.70,276.17L1962.44,276.40L1964.18,276.63L1965.92,276.84L1967.66,277.04L1969.40,277.23L1971.15,277.41L1972.89,277.57L1974.63,277.72L1976.37,277.86L1978.11,277.99L1979.85,278.10L1981.59,278.20L1983.33,278.28L1985.07,278.35L1986.81,278.41L1988.55,278.45L1990.30,278.48L1992.04,278.50L1993.78,278.51L1995.52,278.56L1997.26,278.63L1999.00,278.69" stroke="#ff0000" stroke-width="6.9" stroke-linecap="butt"/>
<path d="M264.60,239.17L283.84,239.25L283.84,239.25L283.92,239.25L283.93,239.25L283.93,238.93L283.93,237.67L283.94,235.64L283.94,231.55L283.94,221.71L283.95,212.55L283.95,205.71L283.95,199.46L283.95,193.37L283.96,187.09L283.96,180.73L283.96,174.43L283.97,168.33L283.97,162.54L283.97,156.90L283.98,151.35L283.98,146.13L283.98,141.47L283.99,137.47L283.99,133.73L283.99,130.22L284.00,126.99L284.00,124.09L284.00,121.57L284.01,119.40L284.01,117.34L284.01,115.43L284.02,113.70L284.02,112.24L284.02,111.09L284.02,110.26L284.03,109.51L284.03,108.86L284.03,108.32L284.04,107.94L284.04,107.74L284.04,107.81L284.05,108.34L284.05,109.27L284.05,110.49L284.06,111.91L284.06,114.12L284.06,117.36L284.07,121.21L284.07,125.28L284.07,129.34L284.08,133.86L284.08,138.74L284.08,143.79L284.09,148.83L284.09,153.68L284.09,158.21L284.09,162.55L284.10,166.79L284.10,170.99L284.10,175.21L284.11,179.53L284.11,183.97L284.11,188.43L284.12,192.97L284.12,197.69L284.12,202.65L284.13,207.95L284.13,213.53L284.13,219.31L284.14,225.19L284.14,231.10L284.14,237.06L284.15,243.16L284.15,249.43L284.15,255.93L284.16,262.99L284.16,270.43L284.16,277.69L284.16,284.22L284.17,289.88L284.17,295.10L284.17,300.35L284.18,306.10L284.18,312.53L284.18,319.44L284.19,326.71L284.19,334.25L284.19,341.97L284.20,349.75L284.20,357.50L284.20,365.12L284.21,372.50L284.21,379.56L284.21,386.39L284.22,393.12L284.22,399.73L284.22,406.21L284.23,412.56L284.23,418.76L284.23,424.80L284.23,430.69L284.24,436.47L284.24,442.16L284.24,447.78L284.25,453.36L284.25,459.00L284.25,464.66L284.26,470.25L284.26,475.67L284.26,480.83L284.27,485.62L284.27,490.13L284.27,494.46L284.28,498.63L284.28,502.64L284.28,506.51L284.29,510.24L284.29,513.87L284.29,517.40L284.30,520.92L284.30,524.39L284.30,527.81L284.30,531.14L284.31,534.35L284.31,537.43L284.31,540.36L284.32,543.10L284.32,545.68L284.32,548.27L284.33,550.86L284.33,553.41L284.33,555.90L284.34,558.28L284.34,560.51L284.34,562.54L284.35,564.35L284.35,565.86L284.35,567.20L284.36,568.47L284.36,569.65L284.36,570.72L284.37,571.67L284.37,572.48L284.37,573.13L284.37,573.62L284.38,573.94L284.38,574.10L284.38,574.10L284.39,573.95L284.39,573.65L284.39,573.22L284.40,572.65L284.40,571.90L284.40,570.98L284.41,569.93L284.41,568.78L284.41,567.55L284.42,566.26L284.42,564.94L284.42,563.61L284.43,562.28L284.43,560.96L284.43,559.68L284.44,558.44L284.44,557.14L284.44,555.68L284.44,554.08L284.45,552.37L284.45,550.56L284.45,548.68L284.46,546.75L284.46,544.79L284.46,542.84L284.47,540.91L284.47,539.02L284.47,537.18L284.48,535.31L284.48,533.40L284.48,531.46L284.49,529.50L284.49,527.52L284.49,525.55L284.50,523.57L284.50,521.62L284.50,519.68L284.51,517.77L284.51,515.91L284.51,514.08L284.51,512.25L284.52,510.43L284.52,508.61L284.52,506.81L284.53,505.02L284.53,503.26L284.53,501.53L284.54,499.83L284.54,498.18L284.54,496.56L284.55,495.00L284.55,493.48L284.55,491.99L284.56,490.52L284.56,489.07L284.56,487.65L284.57,486.26L284.57,484.90L284.57,483.58L284.58,482.29L284.58,481.05L284.58,479.84L284.59,478.68L284.59,477.55L284.59,476.40L284.59,475.25L284.60,474.11L284.60,472.99L284.60,471.90L284.61,470.86L284.61,469.89L284.61,468.99L284.62,468.18L284.62,467.48L284.62,466.89L284.63,466.40L284.63,465.93L284.63,465.48L284.64,465.03L284.64,464.60L284.64,464.19L284.65,463.81L284.65,463.46L284.65,463.13L284.66,462.85L284.66,462.60L284.66,462.40L284.66,462.24L284.67,462.14L284.67,462.09L284.67,462.10L284.68,462.21L284.68,462.40L284.68,462.67L284.69,463.02L284.69,463.42L284.69,463.89L284.70,464.40L284.70,464.96L284.70,465.55L284.71,466.17L284.71,466.81L284.71,467.46L284.72,468.12L284.72,468.77L284.72,469.44L284.73,470.20L284.73,471.05L284.73,471.98L284.73,472.98L284.74,474.04L284.74,475.15L284.74,476.31L284.75,477.50L284.75,478.71L284.75,479.93L284.76,481.15L284.76,482.37L284.76,483.58L284.77,484.76L284.77,485.92L284.77,487.10L284.78,488.31L284.78,489.54L284.78,490.79L284.79,492.05L284.79,493.32L284.79,494.59L284.80,495.87L284.80,497.13L284.80,498.39L284.80,499.63L284.81,500.86L284.81,502.06L284.81,503.24L284.82,504.40L284.82,505.56L284.82,506.74L284.83,507.93L284.83,509.11L284.83,510.28L284.84,511.44L284.84,512.59L284.84,513.70L284.85,514.79L284.85,515.84L284.85,516.84L284.86,517.80L284.86,518.70L284.86,519.54L284.87,520.33L284.87,521.10L284.87,521.86L284.87,522.61L284.88,523.33L284.88,524.04L284.88,524.72L284.89,525.38L284.89,526.00L284.89,526.59L284.90,527.14L284.90,527.66L284.90,528.13L284.91,528.56L284.91,528.94L284.91,529.28L284.92,529.62L284.92,529.95L284.92,530.28L284.93,530.60L284.93,530.90L284.93,531.19L284.94,531.46L284.94,531.71L284.94,531.93L284.94,532.12L284.95,532.28L284.95,532.40L284.95,532.48L284.96,532.52L284.96,532.52L284.96,532.49L284.97,532.44L284.97,532.36L284.97,532.26L284.98,532.14L284.98,532.00L284.98,531.85L284.99,531.67L284.99,531.48L284.99,531.27L285.00,531.05L285.00,530.81L285.00,530.56L285.01,530.31L285.01,530.00L285.01,529.53L285.01,528.92L285.02,528.18L285.02,527.34L285.02,526.42L285.03,525.46L285.03,524.47L285.03,523.48L285.04,522.51L285.04,521.59L285.04,520.74L285.05,519.91L285.05,519.08L285.05,518.24L285.06,517.39L285.06,516.55L285.06,515.70L285.07,514.85L285.07,513.99L285.07,513.14L285.08,512.29L285.08,511.43L285.08,510.58L285.08,509.73L285.09,508.88L285.09,508.03L285.09,507.18L285.10,506.32L285.10,505.46L285.10,504.59L285.11,503.71L285.11,502.84L285.11,501.96L285.12,501.07L285.12,500.19L285.12,499.31L285.13,498.42L285.13,497.54L285.13,496.66L285.14,495.79L285.14,494.92L285.14,494.05L285.15,493.19L285.15,492.34L285.15,491.49L285.15,490.65L285.16,489.82L285.16,489.00L285.16,488.18L285.17,487.38L285.17,486.59L285.17,485.82L285.18,485.05L285.18,484.30L285.18,483.56L285.19,482.84L285.19,482.11L285.19,481.39L285.20,480.66L285.20,479.93L285.20,479.20L285.21,478.48L285.21,477.76L285.21,477.05L285.22,476.35L285.22,475.67L285.22,475.00L285.22,474.35L285.23,473.71L285.23,473.10L285.23,472.51L285.24,471.95L285.24,471.41L285.24,470.90L285.25,470.43L285.25,469.98L285.25,469.58L285.26,469.18L285.26,468.80L285.26,468.43L285.27,468.06L285.27,467.71L285.27,467.37L285.28,467.04L285.28,466.73L285.28,466.42L285.29,466.14L285.29,465.86L285.29,465.61L285.29,465.37L285.30,465.15L285.30,464.94L285.30,464.76L285.31,464.59L285.31,464.44L285.31,464.30L285.32,464.15L285.32,464.01L285.32,463.87L285.33,463.74L285.33,463.61L285.33,463.50L285.34,463.39L285.34,463.30L285.34,463.22L285.35,463.16L285.35,463.12L285.35,463.10L285.36,463.11L285.36,463.13L285.36,463.17L285.37,463.21L285.37,463.25L285.37,463.30L285.37,463.35L285.38,463.40L285.38,463.46L285.38,463.52L285.39,463.58L285.39,463.65L285.39,463.71L285.40,463.78L285.40,463.85L285.40,463.92L285.41,463.99L285.41,464.06L285.41,464.13L285.42,464.21L285.42,464.28L285.42,464.35L285.43,464.42L285.43,464.49L285.43,464.57L285.44,464.65L285.44,464.73L285.44,464.82L285.44,464.91L285.45,465.00L285.45,465.10L285.45,465.20L285.46,465.30L285.46,465.41L285.46,465.51L285.47,465.62L285.47,465.73L285.47,465.84L285.48,465.96L285.48,466.07L285.48,466.19L285.49,466.31L285.49,466.42L285.49,466.54L285.50,466.66L285.50,466.78L285.50,466.90L285.51,467.02L285.51,467.14L285.51,467.26L285.54,468.21L285.56,469.13L285.59,470.01L285.61,470.94L285.64,471.87L285.66,472.73L285.69,473.59L285.71,474.51L285.73,475.36L285.76,476.00L285.78,476.28L285.81,476.17L285.83,475.79L285.86,475.22L285.88,474.52L285.91,473.74L285.93,472.55L285.96,470.97L285.98,469.20L286.01,467.39L286.03,465.26L286.06,463.00L286.08,460.88L286.11,459.07L286.13,457.31L286.16,455.74L286.18,454.56L286.21,453.78L286.23,453.12L286.26,452.75L286.28,452.82L286.31,453.22L286.33,453.82L286.36,454.51L286.38,455.67L286.41,457.01L286.43,457.88L286.46,458.42L286.48,458.82L286.50,458.96L286.53,458.77L286.55,458.32L286.58,457.71L286.60,457.02L286.63,456.34L286.65,455.49L286.68,454.53L286.70,453.56L286.73,452.63L286.75,451.67L286.78,450.74L286.80,449.90L286.83,449.14L286.85,448.34L286.88,447.70L286.90,447.42L286.93,447.45L286.95,447.48L286.98,447.46L287.00,447.42L287.03,447.37L287.05,447.31L287.08,447.24L287.10,447.16L287.13,447.09L287.15,447.02L287.18,446.95L287.20,446.90L287.23,446.87L287.25,446.85L287.27,446.86L287.30,446.91L287.32,446.98L287.35,447.08L287.37,447.21L287.40,447.34L287.42,447.49L287.45,447.65L287.47,447.81L287.50,447.97L287.52,448.12L287.55,448.28L287.57,448.45L287.60,448.64L287.62,448.83L287.65,449.04L287.67,449.25L287.70,449.48L287.72,449.71L287.75,449.95L287.77,450.19L287.80,450.44L287.82,450.69L287.85,450.94L287.87,451.20L287.90,451.46L287.92,451.72L287.95,451.97L287.97,452.24L288.00,452.50L288.02,452.78L288.04,453.06L288.07,453.35L288.09,453.64L288.12,453.94L288.14,454.25L288.17,454.55L288.19,454.86L288.22,455.17L288.24,455.49L288.27,455.80L288.29,456.12L288.32,456.43L288.34,456.74L288.37,457.06L288.39,457.37L288.42,457.68L288.44,457.98L288.47,458.29L288.49,458.60L288.52,458.91L288.54,459.22L288.57,459.53L288.59,459.84L288.62,460.15L288.64,460.46L288.67,460.77L288.69,461.08L288.72,461.39L288.74,461.69L288.77,462.00L288.79,462.32L288.81,462.65L288.84,462.98L288.86,463.32L288.89,463.66L288.91,463.99L288.94,464.33L288.96,464.65L288.99,464.97L289.01,465.28L289.04,465.58L289.06,465.86L289.09,466.12L289.11,466.37L289.14,466.59L289.16,466.79L289.19,466.96L289.21,467.13L289.24,467.30L289.26,467.46L289.29,467.62L289.31,467.78L289.34,467.93L289.36,468.08L289.39,468.22L289.41,468.36L289.44,468.48L289.46,468.59L289.49,468.70L289.51,468.79L289.54,468.87L289.56,468.93L289.58,468.97L289.61,469.00L289.63,469.02L289.66,469.01L289.68,468.99L289.71,468.95L289.73,468.92L289.76,468.87L289.78,468.81L289.81,468.75L289.83,468.68L289.86,468.61L289.88,468.53L289.91,468.45L289.93,468.36L289.96,468.27L289.98,468.17L290.01,468.07L290.03,467.97L290.06,467.86L290.08,467.75L290.11,467.64L290.13,467.53L290.16,467.42L290.18,467.29L290.21,467.14L290.23,466.98L290.26,466.81L290.28,466.62L290.31,466.42L290.33,466.22L290.35,466.00L290.38,465.78L290.40,465.55L290.43,465.31L290.45,465.07L290.48,464.83L290.50,464.58L290.53,464.34L290.55,464.09L290.58,463.83L290.60,463.55L290.63,463.25L290.65,462.94L290.68,462.62L290.70,462.29L290.73,461.96L290.75,461.62L290.78,461.29L290.80,460.95L290.83,460.63L290.85,460.32L290.88,460.01L290.90,459.73L290.93,459.45L290.95,459.17L290.98,458.89L291.00,458.62L291.03,458.34L291.05,458.07L291.08,457.81L291.10,457.54L291.12,457.28L291.15,457.03L291.17,456.78L291.20,456.53L291.22,456.29L291.25,456.05L291.27,455.82L291.30,455.59L291.32,455.37L291.35,455.15L291.37,454.95L291.40,454.74L291.42,454.54L291.45,454.33L291.47,454.13L291.50,453.93L291.52,453.73L291.55,453.54L291.57,453.35L291.60,453.16L291.62,452.98L291.65,452.81L291.67,452.64L291.70,452.49L291.72,452.34L291.75,452.19L291.77,452.06L291.80,451.94L291.82,451.83L291.85,451.73L291.87,451.64L291.89,451.55L291.92,451.46L291.94,451.38L291.97,451.29L291.99,451.20L292.02,451.12L292.04,451.04L292.07,450.96L292.09,450.89L292.12,450.82L292.14,450.75L292.17,450.69L292.19,450.64L292.22,450.59L292.24,450.55L292.27,450.52L292.29,450.49L292.32,450.47L292.34,450.46L292.37,450.46L292.39,450.46L292.42,450.46L292.44,450.46L292.47,450.46L292.49,450.46L292.52,450.32L292.54,450.31L292.57,450.31L292.59,450.31L292.62,450.30L292.64,450.30L292.66,450.30L292.69,450.29L292.71,450.29L292.74,450.29L292.76,450.28" stroke="#0000ff" stroke-width="7.6" stroke-dasharray="41 9 7.25 9" stroke-dashoffset="0.0"/>
<path d="M293.00,450.08L293.47,450.08L294.18,449.56L294.89,448.97L295.60,448.34L296.31,447.67L297.02,447.01L297.73,446.39L298.44,445.85L299.15,445.41L299.86,445.07L300.57,444.81L301.27,444.60L301.98,444.39L302.69,444.15L303.40,443.83L304.11,443.43L304.82,442.93L305.53,442.35L306.24,441.67L306.95,440.89L307.66,440.02L308.37,439.09L309.08,438.12L309.79,437.11L310.49,436.08L311.20,434.98L311.91,433.84L312.62,432.65L313.33,431.42L314.04,430.16L314.75,428.87L315.46,427.57L316.17,426.26L316.88,424.92L317.59,423.54L318.30,422.13L319.01,420.69L319.71,419.23L320.42,417.75L321.13,416.27L321.84,414.78L322.00,414.44" stroke="#0000ff" stroke-width="7.6" stroke-dasharray="41.200 9.100 7.200 9.100" stroke-dashoffset="60.280"/>
<path d="M322.00,414.44L322.55,413.27L323.26,411.73L323.97,410.18L324.68,408.63L325.39,407.07L326.10,405.52L326.81,403.99L327.52,402.48L328.23,401.00L328.93,399.53L329.64,398.06L330.35,396.58L331.06,395.08L331.77,393.54L332.48,391.95L333.19,390.34L333.90,388.70L334.61,387.01L335.32,385.27L336.03,383.45L336.74,381.54L337.45,379.47L338.15,377.24L338.86,374.92L339.57,372.61L340.28,370.34L340.99,368.11L341.70,365.87L342.41,363.65L343.12,361.43L343.83,359.22L344.54,357.02L345.25,354.84L345.96,352.67L346.67,350.52L347.37,348.37L348.08,346.24L348.79,344.11L349.50,342.01L350.21,339.92L350.92,337.85L351.63,335.80L352.34,333.78L353.05,331.77L353.76,329.79L354.47,327.82L355.18,325.87L355.89,323.93L356.59,322.00L357.30,320.08L358.01,318.18L358.72,316.28L359.43,314.40L360.14,312.51L360.85,310.64L361.56,308.77L362.27,306.90L362.98,305.03L363.69,303.16L364.40,301.30L365.11,299.43L365.81,297.56L366.52,295.68L367.23,293.80L367.94,291.91L368.65,290.01L369.36,288.11L370.07,286.19L370.78,284.26L371.49,282.32L372.20,280.38L372.91,278.44L373.62,276.51L374.33,274.60L375.03,272.72L375.74,270.85L376.45,268.99L377.16,267.12L377.87,265.24L378.58,263.37L379.29,261.49L380.00,259.62L380.71,257.76L381.42,255.90L382.13,254.05L382.84,252.22L383.54,250.40L384.25,248.61L384.96,246.83L385.67,245.08L386.38,243.35L387.09,241.65L387.80,239.99L388.51,238.35L389.22,236.76L389.93,235.20L390.64,233.68L391.35,232.22L392.06,230.80L392.76,229.44L393.47,228.12L394.18,226.82L394.89,225.54L395.60,224.26L396.31,222.99L397.02,221.70L397.73,220.39L398.44,219.04L399.15,217.65L399.86,216.25L400.57,214.86L401.28,213.51L401.98,212.21L402.69,211.00L403.40,209.87L404.11,208.78L404.82,207.71L405.53,206.67L406.24,205.66L406.95,204.68L407.66,203.73L408.37,202.82L409.08,201.94L409.79,201.09L410.50,200.27L411.20,199.49L411.91,198.73L412.62,197.98L413.33,197.24L414.04,196.51L414.75,195.81L415.46,195.12L416.17,194.45L416.88,193.81L417.59,193.20L418.30,192.63L419.01,192.08L419.72,191.57L420.42,191.09L421.13,190.65L421.84,190.23L422.55,189.83L423.26,189.45L423.97,189.08L424.68,188.73L425.39,188.41L426.10,188.10L426.81,187.82L427.52,187.57L428.23,187.35L428.94,187.16L429.64,187.01L430.35,186.86L431.06,186.70L431.77,186.54L432.48,186.39L433.19,186.26L433.90,186.14L435.20,186.02" stroke="#0000ff" stroke-width="7.6" stroke-dasharray="40.493 8.944 7.076 8.944" stroke-dashoffset="40.493"/>
<path d="M435.20,186.02L435.64,185.98L437.38,185.95L439.12,186.09L440.86,186.34L442.60,186.71L444.35,187.20L446.09,187.81L447.83,188.54L449.57,189.38L451.31,190.34L453.05,191.40L454.79,192.58L456.53,193.87L458.27,195.26L460.01,196.75L461.75,198.34L463.50,200.03L465.24,201.82L466.98,203.69L468.72,205.66L470.46,207.71L472.20,209.84L473.94,212.04L475.68,214.32L477.42,216.67L479.16,219.09L480.91,221.56L482.65,224.09L484.39,226.68L486.13,229.31L487.87,231.99L489.61,234.70L491.35,237.45L493.09,240.23L494.83,243.04L496.57,245.86L498.31,248.70L500.06,251.56L501.80,254.41L503.54,257.27L505.28,260.13L507.02,262.97L508.76,265.81L510.50,268.62L512.24,271.41L513.98,274.18L515.72,276.91L517.46,279.61L519.21,282.26L520.95,284.88L522.69,287.44L524.43,289.94L526.17,292.39L527.91,294.78L529.65,297.10L531.39,299.36L533.13,301.54L534.87,303.64L536.62,305.66L538.36,307.60L540.10,309.46L541.84,311.22L543.58,312.89L545.32,314.47L547.06,315.95L548.80,317.33L550.54,318.61L552.28,319.79L554.02,320.86L555.77,321.82L557.51,322.68L559.25,323.42L560.99,324.06L562.73,324.58L564.47,325.00L566.21,325.30L567.30,325.43" stroke="#0000ff" stroke-width="7.6" stroke-dasharray="40.950 9.045 7.156 9.045" stroke-dashoffset="40.950"/>
<path d="M567.30,325.43L567.95,325.51L569.69,325.64L571.43,325.66L573.17,325.58L574.92,325.43L576.66,325.19L578.40,324.87L580.14,324.46L581.88,323.98L583.62,323.41L585.36,322.76L587.10,322.03L588.84,321.23L590.58,320.35L592.33,319.39L594.07,318.36L595.81,317.25L597.55,316.08L599.29,314.83L601.03,313.52L602.77,312.14L604.51,310.69L606.25,309.19L607.99,307.62L609.73,306.00L611.48,304.32L613.22,302.59L614.96,300.81L616.70,298.99L618.44,297.11L620.18,295.20L621.92,293.25L623.66,291.26L625.40,289.23L627.14,287.18L628.88,285.10L630.63,282.99L632.37,280.86L634.11,278.71L635.85,276.55L637.59,274.37L639.33,272.19L641.07,270.00L642.81,267.81L644.55,265.61L646.29,263.42L648.03,261.24L649.78,259.07L651.52,256.91L653.26,254.77L655.00,252.64L656.74,250.54L658.48,248.46L660.22,246.41L661.96,244.40L663.70,242.41L665.44,240.47L667.19,238.56L668.93,236.70L670.67,234.88L672.41,233.11L674.15,231.39L675.89,229.73L677.63,228.11L679.37,226.56L681.11,225.07L682.85,223.64L684.59,222.27L686.34,220.97L688.08,219.74L689.82,218.58L691.56,217.49L693.30,216.47L695.04,215.53L696.78,214.66L698.52,213.87L700.26,213.16L702.00,212.53L703.74,211.98L705.49,211.51L707.23,211.13L708.97,210.82L710.71,210.60L712.45,210.46L714.19,210.40L715.93,210.42L717.67,210.51L718.30,210.57" stroke="#0000ff" stroke-width="7.6" stroke-dasharray="40.683 8.986 7.110 8.986" stroke-dashoffset="40.683"/>
<path d="M718.30,210.57L719.41,210.66L721.15,210.88L722.90,211.17L724.64,211.51L726.38,211.93L728.12,212.40L729.86,212.94L731.60,213.54L733.34,214.21L735.08,214.93L736.82,215.71L738.56,216.55L740.30,217.45L742.05,218.41L743.79,219.42L745.53,220.49L747.27,221.60L749.01,222.77L750.75,223.99L752.49,225.25L754.23,226.56L755.97,227.92L757.71,229.31L759.45,230.75L761.20,232.23L762.94,233.74L764.68,235.29L766.42,236.87L768.16,238.48L769.90,240.12L771.64,241.79L773.38,243.48L775.12,245.19L776.86,246.92L778.61,248.67L780.35,250.43L782.09,252.21L783.83,253.99L785.57,255.78L787.31,257.58L789.05,259.39L790.79,261.19L792.53,262.99L794.27,264.79L796.01,266.58L797.76,268.36L799.50,270.13L801.24,271.89L802.98,273.63L804.72,275.35L806.46,277.05L808.20,278.73L809.94,280.39L811.68,282.01L813.42,283.61L815.16,285.18L816.91,286.71L818.65,288.21L820.39,289.67L822.13,291.09L823.87,292.46L825.61,293.80L827.35,295.09L829.09,296.33L830.83,297.53L832.57,298.67L834.31,299.77L836.06,300.81L837.80,301.79L839.54,302.73L841.28,303.60L843.02,304.42L844.76,305.17L846.50,305.87L848.24,306.50L849.98,307.08L851.72,307.59L853.47,308.04L855.21,308.42L856.95,308.74L858.69,309.00L860.43,309.18L862.17,309.31L863.91,309.37L865.65,309.36L867.39,309.29L869.13,309.17L870.87,308.98L872.62,308.74L874.36,308.43L876.10,308.07L877.84,307.65L879.58,307.17L880.00,307.04" stroke="#0000ff" stroke-width="7.6" stroke-dasharray="40.501 8.946 7.078 8.946" stroke-dashoffset="40.501"/>
<path d="M880.00,307.04L881.32,306.64L883.06,306.05L884.80,305.40L886.54,304.71L888.28,303.95L890.02,303.15L891.77,302.30L893.51,301.40L895.25,300.45L896.99,299.46L898.73,298.42L900.47,297.34L902.21,296.22L903.95,295.05L905.69,293.86L907.43,292.62L909.18,291.35L910.92,290.05L912.66,288.73L914.40,287.37L916.14,285.99L917.88,284.58L919.62,283.16L921.36,281.72L923.10,280.26L924.84,278.78L926.58,277.30L928.33,275.80L930.07,274.30L931.81,272.79L933.55,271.28L935.29,269.77L937.03,268.27L938.77,266.76L940.51,265.27L942.25,263.78L943.99,262.31L945.73,260.85L947.48,259.41L949.22,257.99L950.96,256.58L952.70,255.20L954.44,253.85L956.18,252.52L957.92,251.23L959.66,249.96L961.40,248.73L963.14,247.53L964.88,246.38L966.63,245.26L968.37,244.18L970.11,243.14L971.85,242.15L973.59,241.21L975.33,240.31L977.07,239.46L978.81,238.67L980.55,237.92L982.29,237.23L984.04,236.59L985.78,236.00L987.52,235.47L989.26,235.00L991.00,234.58L992.74,234.22L994.48,233.92L996.22,233.68L997.96,233.50L999.70,233.38L1001.44,233.32L1003.19,233.32L1004.93,233.36L1006.67,233.46L1008.41,233.60L1010.15,233.79L1011.89,234.04L1013.63,234.32L1015.37,234.66L1017.11,235.04L1018.85,235.47L1020.59,235.94L1022.34,236.46L1024.08,237.02L1025.82,237.63L1027.56,238.27L1029.30,238.96L1031.04,239.69L1032.78,240.46L1034.52,241.27L1036.26,242.11L1038.00,242.99L1039.75,243.90L1041.49,244.85L1043.23,245.83L1044.97,246.83L1046.71,247.87L1048.45,248.93L1050.19,250.02L1051.93,251.14L1052.00,251.18" stroke="#0000ff" stroke-width="7.6" stroke-dasharray="40.977 9.051 7.161 9.051" stroke-dashoffset="40.977"/>
<path d="M1052.00,251.18L1053.67,252.27L1055.41,253.43L1057.15,254.60L1058.90,255.80L1060.64,257.00L1062.38,258.23L1064.12,259.46L1065.86,260.70L1067.60,261.95L1069.34,263.21L1071.08,264.47L1072.82,265.74L1074.56,267.00L1076.30,268.27L1078.05,269.53L1079.79,270.79L1081.53,272.04L1083.27,273.28L1085.01,274.51L1086.75,275.73L1088.49,276.93L1090.23,278.12L1091.97,279.29L1093.71,280.45L1095.46,281.58L1097.20,282.69L1098.94,283.77L1100.68,284.83L1102.42,285.86L1104.16,286.86L1105.90,287.83L1107.64,288.77L1109.38,289.68L1111.12,290.55L1112.86,291.39L1114.61,292.19L1116.35,292.95L1118.09,293.67L1119.83,294.35L1121.57,294.99L1123.31,295.58L1125.05,296.14L1126.79,296.64L1128.53,297.11L1130.27,297.53L1132.01,297.90L1133.76,298.22L1135.50,298.50L1137.24,298.73L1138.98,298.92L1140.72,299.05L1142.46,299.14L1144.20,299.17L1145.94,299.16L1147.68,299.11L1149.42,299.02L1151.16,298.89L1152.91,298.71L1154.65,298.50L1156.39,298.24L1158.13,297.94L1159.87,297.61L1161.61,297.23L1163.35,296.82L1165.09,296.37L1166.83,295.88L1168.57,295.36L1169.30,295.13" stroke="#0000ff" stroke-width="7.6" stroke-dasharray="40.555 8.957 7.087 8.957" stroke-dashoffset="40.555"/>
<path d="M1169.30,295.13L1170.32,294.80L1172.06,294.21L1173.80,293.58L1175.54,292.92L1177.28,292.23L1179.02,291.51L1180.76,290.75L1182.50,289.97L1184.24,289.17L1185.98,288.33L1187.72,287.48L1189.47,286.60L1191.21,285.69L1192.95,284.77L1194.69,283.83L1196.43,282.87L1198.17,281.89L1199.91,280.91L1201.65,279.90L1203.39,278.89L1205.13,277.87L1206.87,276.84L1208.62,275.80L1210.36,274.75L1212.10,273.71L1213.84,272.66L1215.58,271.61L1217.32,270.57L1219.06,269.53L1220.80,268.49L1222.54,267.46L1224.28,266.43L1226.03,265.42L1227.77,264.42L1229.51,263.43L1231.25,262.46L1232.99,261.50L1234.73,260.56L1236.47,259.64L1238.21,258.73L1239.95,257.85L1241.69,257.00L1243.43,256.17L1245.18,255.36L1246.92,254.58L1248.66,253.83L1250.40,253.11L1252.14,252.42L1253.88,251.76L1255.62,251.13L1257.36,250.54L1259.10,249.98L1260.84,249.46L1262.58,248.98L1264.33,248.53L1266.07,248.12L1267.81,247.74L1269.55,247.41L1271.29,247.12L1273.03,246.86L1274.77,246.65L1276.51,246.48L1278.25,246.34L1279.99,246.25L1281.74,246.20L1283.48,246.19L1285.22,246.22L1286.96,246.28L1288.70,246.37L1290.44,246.49L1292.18,246.65L1293.92,246.83L1295.66,247.05L1297.40,247.30L1299.14,247.57L1300.89,247.88L1302.63,248.22L1304.37,248.59L1306.11,248.98L1307.85,249.41L1309.59,249.86L1311.33,250.34L1313.07,250.84L1314.81,251.37L1316.55,251.92L1318.29,252.50L1320.04,253.10L1321.78,253.72L1323.52,254.37L1325.26,255.03L1327.00,255.71L1328.74,256.41L1330.48,257.13L1332.22,257.86L1333.96,258.61L1335.70,259.37L1337.44,260.15L1339.19,260.93L1340.93,261.73L1342.67,262.53L1344.41,263.35L1346.15,264.17L1347.89,264.99L1349.63,265.82L1351.37,266.65L1352.60,267.24" stroke="#0000ff" stroke-width="7.6" stroke-dasharray="40.916 9.037 7.150 9.037" stroke-dashoffset="40.916"/>
<path d="M1352.60,267.24L1353.11,267.49L1354.85,268.32L1356.60,269.15L1358.34,269.98L1360.08,270.81L1361.82,271.64L1363.56,272.45L1365.30,273.27L1367.04,274.07L1368.78,274.86L1370.52,275.65L1372.26,276.42L1374.00,277.18L1375.75,277.92L1377.49,278.65L1379.23,279.36L1380.97,280.06L1382.71,280.74L1384.45,281.40L1386.19,282.03L1387.93,282.65L1389.67,283.25L1391.41,283.82L1393.15,284.37L1394.90,284.89L1396.64,285.39L1398.38,285.86L1400.12,286.31L1401.86,286.72L1403.60,287.11L1405.34,287.47L1407.08,287.80L1408.82,288.11L1410.56,288.38L1412.31,288.62L1414.05,288.83L1415.79,289.01L1417.53,289.15L1419.27,289.27L1421.01,289.35L1422.75,289.40L1424.49,289.42L1426.23,289.41L1427.97,289.37L1429.71,289.31L1431.46,289.23L1433.20,289.12L1434.94,288.98L1436.68,288.82L1438.42,288.64L1440.16,288.43L1441.90,288.20L1443.64,287.94L1445.38,287.67L1447.12,287.37L1448.86,287.04L1450.61,286.70L1452.35,286.33L1454.09,285.95L1455.83,285.54L1457.57,285.12L1459.31,284.67L1461.05,284.21L1462.79,283.73L1464.53,283.23L1466.27,282.72L1468.02,282.19L1469.76,281.64L1471.50,281.09L1473.24,280.51L1474.98,279.93L1476.72,279.34L1478.46,278.73L1480.20,278.12L1481.94,277.49L1483.68,276.86L1485.42,276.22L1487.17,275.58L1488.91,274.93L1490.65,274.27L1492.39,273.62L1494.13,272.96L1495.87,272.29L1497.61,271.63L1499.35,270.97L1501.09,270.31L1502.83,269.65L1504.57,269.00L1506.32,268.35L1508.06,267.71L1509.80,267.07L1511.54,266.44L1513.28,265.81L1515.02,265.20L1516.76,264.59L1518.50,264.00L1520.24,263.41L1521.98,262.84L1523.72,262.29L1525.47,261.74L1527.21,261.21L1528.95,260.70L1530.69,260.20L1532.43,259.72L1534.17,259.26L1535.91,258.82L1537.65,258.39L1539.39,257.99L1541.13,257.60L1542.40,257.33" stroke="#0000ff" stroke-width="7.6" stroke-dasharray="40.976 9.051 7.161 9.051" stroke-dashoffset="40.976"/>
<path d="M1542.40,257.33L1542.88,257.23L1544.62,256.89L1546.36,256.57L1548.10,256.27L1549.84,255.99L1551.58,255.74L1553.32,255.51L1555.06,255.30L1556.80,255.11L1558.54,254.96L1560.28,254.82L1562.03,254.71L1563.77,254.63L1565.51,254.56L1567.25,254.53L1568.99,254.52L1570.73,254.53L1572.47,254.56L1574.21,254.62L1575.95,254.69L1577.69,254.79L1579.43,254.91L1581.18,255.04L1582.92,255.20L1584.66,255.38L1586.40,255.57L1588.14,255.79L1589.88,256.02L1591.62,256.28L1593.36,256.55L1595.10,256.84L1596.84,257.14L1598.59,257.47L1600.33,257.81L1602.07,258.16L1603.81,258.53L1605.55,258.92L1607.29,259.32L1609.03,259.74L1610.77,260.16L1612.51,260.60L1614.25,261.06L1615.99,261.52L1617.74,261.99L1619.48,262.47L1621.22,262.97L1622.96,263.47L1624.70,263.97L1626.44,264.49L1628.18,265.01L1629.92,265.53L1631.66,266.06L1633.40,266.59L1635.14,267.13L1636.89,267.67L1638.63,268.21L1640.37,268.74L1642.11,269.28L1643.85,269.82L1645.59,270.35L1647.33,270.89L1649.07,271.41L1650.81,271.94L1652.55,272.46L1654.29,272.97L1656.04,273.47L1657.78,273.97L1659.52,274.46L1661.26,274.94L1663.00,275.41L1664.74,275.87L1666.48,276.32L1668.22,276.75L1669.96,277.18L1671.70,277.59L1673.45,277.98L1675.19,278.36L1676.93,278.73L1678.67,279.08L1680.41,279.42L1682.15,279.74L1683.89,280.04L1685.63,280.32L1687.37,280.59L1689.11,280.83L1690.85,281.06L1692.60,281.27L1694.34,281.46L1696.08,281.63L1697.82,281.78L1699.56,281.91L1701.30,282.02L1703.04,282.11L1704.78,282.18L1706.52,282.23L1708.26,282.25L1710.00,282.26L1711.75,282.25L1713.49,282.22L1715.23,282.18L1716.97,282.12L1718.71,282.04L1720.45,281.95L1722.19,281.84L1723.93,281.72L1725.67,281.58L1727.41,281.43L1729.16,281.26L1730.90,281.08L1732.64,280.88L1734.38,280.67L1736.12,280.45L1736.80,280.35" stroke="#0000ff" stroke-width="7.6" stroke-dasharray="40.828 9.018 7.135 9.018" stroke-dashoffset="40.828"/>
<path d="M1736.80,280.35L1737.86,280.21L1739.60,279.96L1741.34,279.69L1743.08,279.42L1744.82,279.13L1746.56,278.83L1748.31,278.52L1750.05,278.20L1751.79,277.87L1753.53,277.52L1755.27,277.17L1757.01,276.81L1758.75,276.44L1760.49,276.07L1762.23,275.69L1763.97,275.30L1765.71,274.90L1767.46,274.50L1769.20,274.09L1770.94,273.68L1772.68,273.27L1774.42,272.85L1776.16,272.43L1777.90,272.01L1779.64,271.58L1781.38,271.16L1783.12,270.73L1784.87,270.31L1786.61,269.89L1788.35,269.46L1790.09,269.04L1791.83,268.63L1793.57,268.21L1795.31,267.81L1797.05,267.40L1798.79,267.00L1800.53,266.61L1802.27,266.22L1804.02,265.84L1805.76,265.47L1807.50,265.10L1809.24,264.75L1810.98,264.40L1812.72,264.06L1814.46,263.73L1816.20,263.41L1817.94,263.11L1819.68,262.81L1821.42,262.53L1823.17,262.26L1824.91,262.00L1826.65,261.75L1828.39,261.52L1830.13,261.30L1831.87,261.10L1833.61,260.90L1835.35,260.73L1837.09,260.57L1838.83,260.42L1840.57,260.29L1842.32,260.17L1844.06,260.07L1845.80,259.99L1847.54,259.92L1849.28,259.86L1851.02,259.83L1852.76,259.80L1854.50,259.80L1856.24,259.81L1857.98,259.83L1859.73,259.86L1861.47,259.91L1863.21,259.97L1864.95,260.04L1866.69,260.12L1868.43,260.21L1870.17,260.32L1871.91,260.44L1873.65,260.57L1875.39,260.71L1877.13,260.87L1878.88,261.03L1880.62,261.21L1882.36,261.39L1884.10,261.59L1885.84,261.80L1887.58,262.01L1889.32,262.24L1891.06,262.47L1892.80,262.72L1894.54,262.97L1896.28,263.23L1898.03,263.50L1899.77,263.77L1901.51,264.05L1903.25,264.34L1904.99,264.64L1906.73,264.94L1908.47,265.25L1910.21,265.56L1911.95,265.87L1913.69,266.19L1915.44,266.52L1917.18,266.84L1918.92,267.17L1920.66,267.50L1922.40,267.84L1924.14,268.17L1925.88,268.51L1927.62,268.84L1929.36,269.18L1931.10,269.51L1932.84,269.84L1933.60,269.99" stroke="#0000ff" stroke-width="7.6" stroke-dasharray="41.165 9.092 7.194 9.092" stroke-dashoffset="41.165"/>
<path d="M1933.60,269.99L1934.59,270.18L1936.33,270.51L1938.07,270.83L1939.81,271.16L1941.55,271.48L1943.29,271.79L1945.03,272.11L1946.77,272.41L1948.51,272.72L1950.25,273.01L1951.99,273.30L1953.74,273.59L1955.48,273.86L1957.22,274.13L1958.96,274.39L1960.70,274.65L1962.44,274.89L1964.18,275.13L1965.92,275.36L1967.66,275.58L1969.40,275.78L1971.15,275.98L1972.89,276.17L1974.63,276.35L1976.37,276.51L1978.11,276.67L1979.85,276.81L1981.59,276.95L1983.33,277.07L1985.07,277.18L1986.81,277.27L1988.55,277.36L1990.30,277.43L1992.04,277.49L1993.78,277.54L1995.52,277.57L1997.26,277.60L1999.00,277.61" stroke="#0000ff" stroke-width="7.6" stroke-dasharray="41.200 9.100 7.200 9.100" stroke-dashoffset="41.200"/>
</g>
<g shape-rendering="crispEdges">
<rect x="223" y="22" width="4" height="910" fill="#000"/>
<rect x="1991" y="22" width="4" height="910" fill="#000"/>
<rect x="223" y="22" width="1772" height="4" fill="#000"/>
<rect x="223" y="928" width="1772" height="4" fill="#000"/>
<rect x="282" y="932" width="4" height="13" fill="#000"/>
<rect x="577" y="932" width="4" height="13" fill="#000"/>
<rect x="871" y="932" width="4" height="13" fill="#000"/>
<rect x="1166" y="932" width="4" height="13" fill="#000"/>
<rect x="1461" y="932" width="4" height="13" fill="#000"/>
<rect x="1755" y="932" width="4" height="13" fill="#000"/>
<rect x="210" y="928" width="13" height="4" fill="#000"/>
<rect x="210" y="739" width="13" height="4" fill="#000"/>
<rect x="210" y="550" width="13" height="4" fill="#000"/>
<rect x="210" y="362" width="13" height="4" fill="#000"/>
<rect x="210" y="173" width="13" height="4" fill="#000"/>
</g>
<g stroke="#808080" stroke-width="5.2" fill="none" shape-rendering="crispEdges">
<line x1="283.64" y1="24.0" x2="490.0" y2="432.0"/>
<line x1="283.64" y1="590.25" x2="490.0" y2="794.5"/>
</g>
<rect x="490.0" y="432.0" width="1414.5" height="362.5" fill="#fff"/>
<g clip-path="url(#ci)" fill="none" stroke-linejoin="round" shape-rendering="crispEdges">
<path d="M470.00,569.80L482.80,569.80L495.60,569.80L508.40,569.80L521.20,569.80L534.00,569.80L534.49,569.80L534.99,569.59L535.48,568.79L535.97,567.49L536.46,564.87L536.96,558.57L537.45,552.71L537.94,548.33L538.44,544.33L538.93,540.43L539.42,536.41L539.92,532.34L540.41,528.32L540.90,524.42L541.39,520.72L541.89,517.11L542.38,513.58L542.87,510.26L543.37,507.31L543.86,504.78L544.35,502.43L544.85,500.23L545.34,498.23L545.83,496.45L546.32,494.93L546.82,493.64L547.31,492.43L547.80,491.32L548.30,490.35L548.79,489.53L549.28,488.93L549.78,488.52L550.27,488.15L550.76,487.83L551.25,487.56L551.75,487.37L552.24,487.27L552.73,487.31L553.23,487.63L553.72,488.17L554.21,488.88L554.71,489.69L555.20,491.00L555.69,492.95L556.18,495.29L556.68,497.77L557.17,500.24L557.66,503.02L558.16,506.03L558.65,509.16L559.14,512.30L559.64,515.32L560.13,518.16L560.62,520.88L561.11,523.55L561.61,526.20L562.10,528.88L562.59,531.62L563.09,534.45L563.58,537.29L564.07,540.19L564.57,543.20L565.06,546.38L565.55,549.76L566.04,553.34L566.54,557.04L567.03,560.80L567.52,564.58L568.02,568.40L568.51,572.30L569.00,576.31L569.49,580.48L569.99,585.00L570.48,589.76L570.97,594.40L571.47,598.59L571.96,602.21L572.45,605.55L572.95,608.91L573.44,612.59L573.93,616.71L574.42,621.13L574.92,625.79L575.41,630.62L575.90,635.55L576.40,640.54L576.89,645.50L577.38,650.37L577.88,655.10L578.37,659.62L578.86,663.99L579.35,668.30L579.85,672.53L580.34,676.68L580.83,680.75L581.33,684.72L581.82,688.58L582.31,692.36L582.81,696.05L583.30,699.69L583.79,703.29L584.28,706.87L584.78,710.48L585.27,714.10L585.76,717.68L586.26,721.15L586.75,724.45L587.24,727.52L587.74,730.40L588.23,733.17L588.72,735.83L589.21,738.40L589.71,740.86L590.20,743.25L590.69,745.55L591.19,747.79L591.68,750.01L592.17,752.20L592.67,754.34L593.16,756.40L593.65,758.38L594.14,760.25L594.64,762.00L595.13,763.60L595.62,765.07L596.12,766.53L596.61,767.95L597.10,769.31L597.60,770.61L598.09,771.82L598.58,772.91L599.07,773.86L599.57,774.66L600.06,775.29L600.55,775.81L601.05,776.33L601.54,776.82L602.03,777.29L602.53,777.74L603.02,778.15L603.51,778.54L604.00,778.89L604.50,779.20L604.99,779.46L605.48,779.68L605.98,779.85L606.47,779.96L606.96,780.01L607.45,780.00L607.95,779.87L608.44,779.63L608.93,779.29L609.43,778.87L609.92,778.37L610.41,777.82L610.91,777.21L611.40,776.56L611.89,775.89L612.38,775.19L612.88,774.50L613.37,773.80L613.86,773.05L614.36,772.18L614.85,771.21L615.34,770.15L615.84,769.02L616.33,767.83L616.82,766.61L617.31,765.37L617.81,764.13L618.30,762.90L618.79,761.70L619.29,760.52L619.78,759.33L620.27,758.10L620.77,756.86L621.26,755.61L621.75,754.34L622.24,753.08L622.74,751.82L623.23,750.56L623.72,749.32L624.22,748.10L624.71,746.91L625.20,745.74L625.70,744.57L626.19,743.40L626.68,742.24L627.17,741.08L627.67,739.94L628.16,738.81L628.65,737.71L629.15,736.62L629.64,735.56L630.13,734.52L630.63,733.52L631.12,732.55L631.61,731.60L632.10,730.65L632.60,729.73L633.09,728.82L633.58,727.93L634.08,727.06L634.57,726.21L635.06,725.39L635.56,724.59L636.05,723.82L636.54,723.07L637.03,722.35L637.53,721.62L638.02,720.88L638.51,720.15L639.01,719.43L639.50,718.74L639.99,718.07L640.48,717.45L640.98,716.87L641.47,716.36L641.96,715.90L642.46,715.53L642.95,715.22L643.44,714.92L643.94,714.62L644.43,714.34L644.92,714.06L645.41,713.80L645.91,713.56L646.40,713.33L646.89,713.12L647.39,712.94L647.88,712.78L648.37,712.65L648.87,712.55L649.36,712.48L649.85,712.45L650.34,712.46L650.84,712.53L651.33,712.65L651.82,712.83L652.32,713.05L652.81,713.31L653.30,713.61L653.80,713.94L654.29,714.29L654.78,714.67L655.27,715.07L655.77,715.48L656.26,715.89L656.75,716.31L657.25,716.73L657.74,717.16L658.23,717.65L658.73,718.19L659.22,718.79L659.71,719.43L660.20,720.11L660.70,720.82L661.19,721.56L661.68,722.32L662.18,723.09L662.67,723.87L663.16,724.66L663.66,725.44L664.15,726.21L664.64,726.97L665.13,727.71L665.63,728.47L666.12,729.24L666.61,730.03L667.11,730.83L667.60,731.64L668.09,732.45L668.59,733.26L669.08,734.08L669.57,734.89L670.06,735.69L670.56,736.49L671.05,737.27L671.54,738.05L672.04,738.80L672.53,739.54L673.02,740.29L673.52,741.04L674.01,741.80L674.50,742.56L674.99,743.31L675.49,744.05L675.98,744.78L676.47,745.50L676.97,746.19L677.46,746.86L677.95,747.51L678.44,748.12L678.94,748.69L679.43,749.23L679.92,749.74L680.42,750.23L680.91,750.72L681.40,751.20L681.90,751.66L682.39,752.11L682.88,752.55L683.37,752.97L683.87,753.37L684.36,753.75L684.85,754.10L685.35,754.43L685.84,754.73L686.33,755.01L686.83,755.25L687.32,755.47L687.81,755.68L688.30,755.90L688.80,756.11L689.29,756.31L689.78,756.51L690.28,756.69L690.77,756.87L691.26,757.02L691.76,757.16L692.25,757.29L692.74,757.39L693.23,757.47L693.73,757.52L694.22,757.54L694.71,757.54L695.21,757.52L695.70,757.49L696.19,757.44L696.69,757.38L697.18,757.30L697.67,757.21L698.16,757.11L698.66,757.00L699.15,756.88L699.64,756.74L700.14,756.60L700.63,756.45L701.12,756.29L701.62,756.13L702.11,755.93L702.60,755.63L703.09,755.23L703.59,754.76L704.08,754.22L704.57,753.64L705.07,753.02L705.56,752.39L706.05,751.76L706.55,751.14L707.04,750.55L707.53,750.00L708.02,749.47L708.52,748.94L709.01,748.40L709.50,747.86L710.00,747.32L710.49,746.77L710.98,746.23L711.47,745.68L711.97,745.14L712.46,744.59L712.95,744.04L713.45,743.50L713.94,742.95L714.43,742.41L714.93,741.87L715.42,741.32L715.91,740.77L716.40,740.22L716.90,739.66L717.39,739.10L717.88,738.54L718.38,737.98L718.87,737.41L719.36,736.85L719.86,736.28L720.35,735.71L720.84,735.15L721.33,734.58L721.83,734.02L722.32,733.46L722.81,732.90L723.31,732.35L723.80,731.80L724.29,731.25L724.79,730.71L725.28,730.17L725.77,729.64L726.26,729.11L726.76,728.59L727.25,728.07L727.74,727.57L728.24,727.07L728.73,726.58L729.22,726.09L729.72,725.62L730.21,725.14L730.70,724.67L731.19,724.19L731.69,723.71L732.18,723.23L732.67,722.75L733.17,722.28L733.66,721.81L734.15,721.35L734.65,720.89L735.14,720.45L735.63,720.02L736.12,719.59L736.62,719.18L737.11,718.79L737.60,718.41L738.10,718.05L738.59,717.71L739.08,717.38L739.58,717.08L740.07,716.80L740.56,716.53L741.05,716.27L741.55,716.01L742.04,715.76L742.53,715.51L743.03,715.28L743.52,715.05L744.01,714.82L744.51,714.61L745.00,714.41L745.49,714.21L745.98,714.03L746.48,713.85L746.97,713.69L747.46,713.54L747.96,713.40L748.45,713.27L748.94,713.15L749.43,713.04L749.93,712.93L750.42,712.82L750.91,712.71L751.41,712.60L751.90,712.50L752.39,712.40L752.89,712.32L753.38,712.24L753.87,712.17L754.36,712.11L754.86,712.06L755.35,712.03L755.84,712.01L756.34,712.01L756.83,712.01L757.32,712.01L757.82,712.02L758.31,712.03L758.80,712.05L759.29,712.06L759.79,712.08L760.28,712.10L760.77,712.12L761.27,712.14L761.76,712.17L762.25,712.19L762.75,712.22L763.24,712.25L763.73,712.28L764.22,712.31L764.72,712.34L765.21,712.37L765.70,712.40L766.20,712.43L766.69,712.46L767.18,712.49L767.68,712.53L768.17,712.57L768.66,712.61L769.15,712.65L769.65,712.70L770.14,712.74L770.63,712.79L771.13,712.85L771.62,712.90L772.11,712.96L772.61,713.02L773.10,713.08L773.59,713.14L774.08,713.20L774.58,713.27L775.07,713.34L775.56,713.41L776.06,713.48L776.55,713.55L777.04,713.62L777.54,713.69L778.03,713.76L778.52,713.84L779.01,713.92L779.51,713.99L780.00,714.07L783.85,714.67L787.69,715.26L791.54,715.82L795.38,716.42L799.23,717.02L803.08,717.57L806.92,718.11L810.77,718.70L814.62,719.25L818.46,719.66L822.31,719.84L826.15,719.77L830.00,719.52L833.85,719.16L837.69,718.71L841.54,718.21L845.38,717.45L849.23,716.44L853.08,715.31L856.92,714.15L860.77,712.79L864.62,711.34L868.46,709.98L872.31,708.82L876.15,707.69L880.00,706.69L883.85,705.93L887.69,705.43L891.54,705.01L895.38,704.78L899.23,704.82L903.08,705.07L906.92,705.46L910.77,705.90L914.62,706.64L918.46,707.50L922.31,708.06L926.15,708.40L930.00,708.66L933.85,708.75L937.69,708.63L941.54,708.34L945.38,707.95L949.23,707.51L953.08,707.07L956.92,706.53L960.77,705.91L964.62,705.29L968.46,704.70L972.31,704.09L976.15,703.49L980.00,702.95L983.85,702.46L987.69,701.95L991.54,701.55L995.38,701.36L999.23,701.38L1003.08,701.40L1006.92,701.39L1010.77,701.36L1014.62,701.33L1018.46,701.29L1022.31,701.25L1026.15,701.20L1030.00,701.15L1033.85,701.11L1037.69,701.07L1041.54,701.03L1045.38,701.01L1049.23,701.00L1053.08,701.01L1056.92,701.04L1060.77,701.08L1064.62,701.15L1068.46,701.23L1072.31,701.31L1076.15,701.41L1080.00,701.51L1083.85,701.61L1087.69,701.72L1091.54,701.81L1095.38,701.92L1099.23,702.03L1103.08,702.14L1106.92,702.27L1110.77,702.40L1114.62,702.54L1118.46,702.68L1122.31,702.83L1126.15,702.98L1130.00,703.14L1133.85,703.29L1137.69,703.46L1141.54,703.62L1145.38,703.78L1149.23,703.95L1153.08,704.11L1156.92,704.28L1160.77,704.45L1164.62,704.62L1168.46,704.79L1172.31,704.98L1176.15,705.16L1180.00,705.35L1183.85,705.54L1187.69,705.73L1191.54,705.93L1195.38,706.13L1199.23,706.33L1203.08,706.53L1206.92,706.73L1210.77,706.93L1214.62,707.13L1218.46,707.33L1222.31,707.53L1226.15,707.73L1230.00,707.93L1233.85,708.12L1237.69,708.32L1241.54,708.52L1245.38,708.72L1249.23,708.92L1253.08,709.12L1256.92,709.31L1260.77,709.51L1264.62,709.71L1268.46,709.91L1272.31,710.11L1276.15,710.31L1280.00,710.50L1283.85,710.70L1287.69,710.90L1291.54,711.11L1295.38,711.33L1299.23,711.54L1303.08,711.76L1306.92,711.97L1310.77,712.19L1314.62,712.40L1318.46,712.61L1322.31,712.81L1326.15,713.00L1330.00,713.18L1333.85,713.35L1337.69,713.52L1341.54,713.66L1345.38,713.80L1349.23,713.92L1353.08,714.03L1356.92,714.14L1360.77,714.25L1364.62,714.36L1368.46,714.47L1372.31,714.58L1376.15,714.68L1380.00,714.78L1383.85,714.87L1387.69,714.96L1391.54,715.05L1395.38,715.12L1399.23,715.19L1403.08,715.25L1406.92,715.30L1410.77,715.34L1414.62,715.37L1418.46,715.39L1422.31,715.40L1426.15,715.40L1430.00,715.39L1433.85,715.38L1437.69,715.36L1441.54,715.34L1445.38,715.31L1449.23,715.28L1453.08,715.25L1456.92,715.21L1460.77,715.17L1464.62,715.13L1468.46,715.08L1472.31,715.04L1476.15,714.99L1480.00,714.94L1483.85,714.88L1487.69,714.83L1491.54,714.77L1495.38,714.72L1499.23,714.66L1503.08,714.59L1506.92,714.51L1510.77,714.42L1514.62,714.33L1518.46,714.22L1522.31,714.11L1526.15,714.00L1530.00,713.87L1533.85,713.75L1537.69,713.61L1541.54,713.48L1545.38,713.34L1549.23,713.20L1553.08,713.06L1556.92,712.91L1560.77,712.77L1564.62,712.62L1568.46,712.45L1572.31,712.28L1576.15,712.09L1580.00,711.90L1583.85,711.71L1587.69,711.51L1591.54,711.31L1595.38,711.10L1599.23,710.91L1603.08,710.71L1606.92,710.52L1610.77,710.34L1614.62,710.17L1618.46,710.01L1622.31,709.84L1626.15,709.68L1630.00,709.51L1633.85,709.35L1637.69,709.19L1641.54,709.03L1645.38,708.87L1649.23,708.72L1653.08,708.56L1656.92,708.41L1660.77,708.26L1664.62,708.12L1668.46,707.97L1672.31,707.83L1676.15,707.70L1680.00,707.56L1683.85,707.44L1687.69,707.31L1691.54,707.19L1695.38,707.06L1699.23,706.94L1703.08,706.81L1706.92,706.69L1710.77,706.57L1714.62,706.45L1718.46,706.33L1722.31,706.22L1726.15,706.11L1730.00,706.00L1733.85,705.89L1737.69,705.79L1741.54,705.70L1745.38,705.61L1749.23,705.53L1753.08,705.45L1756.92,705.38L1760.77,705.32L1764.62,705.26L1768.46,705.20L1772.31,705.14L1776.15,705.09L1780.00,705.03L1783.85,704.98L1787.69,704.92L1791.54,704.87L1795.38,704.82L1799.23,704.77L1803.08,704.73L1806.92,704.69L1810.77,704.65L1814.62,704.62L1818.46,704.58L1822.31,704.56L1826.15,704.54L1830.00,704.52L1833.85,704.51L1837.69,704.50L1841.54,704.50L1845.38,704.50L1849.23,704.50L1853.08,704.50L1856.92,704.50L1860.77,704.50L1864.62,704.50L1868.46,704.50L1872.31,704.50L1876.15,704.50L1880.00,704.50L1883.85,704.50L1887.69,704.50L1891.54,704.50L1895.38,704.50L1899.23,704.50L1903.08,704.50L1906.92,704.50L1910.77,704.48L1914.62,704.45L1918.46,704.42L1922.31,704.38L1926.15,704.34L1930.00,704.30" stroke="#ff0000" stroke-width="6.9"/>
<path d="M490.00,569.80L495.60,569.80L508.40,569.80L521.20,569.80L531.00,569.80" stroke="#0000ff" stroke-width="7.6" stroke-dasharray="41.200 9.100 7.200 9.100" stroke-dashoffset="0.200"/>
<path d="M531.00,569.80L534.00,569.80L534.49,569.80L534.99,569.59L535.48,568.79L535.97,567.49L536.46,564.87L536.96,558.57L537.45,552.71L537.94,548.33L538.44,544.33L538.93,540.43L539.42,536.41L539.92,532.34L540.41,528.32L540.90,524.42L541.39,520.72L541.89,517.11L542.38,513.58L542.87,510.26L543.37,507.31L543.86,504.78L544.35,502.43L544.85,500.23L545.34,498.23L545.83,496.45L546.32,494.93L546.82,493.64L547.31,492.43L547.80,491.32L548.30,490.35L548.79,489.53L549.28,488.93L549.78,488.52L550.27,488.15L550.76,487.83L551.25,487.56L551.75,487.37L552.24,487.27L552.73,487.31L553.23,487.63L553.72,488.17L554.21,488.88L554.71,489.69L555.20,491.00L555.69,492.95L556.18,495.29L556.68,497.77L557.17,500.24L557.66,503.02L558.16,506.03L558.65,509.16L559.14,512.30L559.64,515.32L560.13,518.16L560.62,520.88L561.11,523.55L561.61,526.20L562.10,528.88L562.59,531.62L563.09,534.45L563.58,537.29L564.07,540.19L564.57,543.20L565.06,546.38L565.55,549.76L566.04,553.34L566.54,557.04L567.03,560.80L567.52,564.58L568.02,568.40L568.51,572.30L569.00,576.31L569.49,580.48L569.99,585.00L570.48,589.76L570.97,594.40L571.47,598.59L571.96,602.21L572.45,605.55L572.95,608.91L573.44,612.59L573.93,616.71L574.42,621.13L574.92,625.79L575.41,630.62L575.90,635.55L576.40,640.54L576.89,645.50L577.38,650.37L577.88,655.10L578.37,659.62L578.86,663.99L579.35,668.30L579.85,672.53L580.34,676.68L580.83,680.75L581.33,684.72L581.82,688.58L582.31,692.36L582.81,696.05L583.30,699.69L583.79,703.29L584.28,706.87L584.78,710.48L585.27,714.10L585.76,717.68L586.26,721.15L586.75,724.45L587.24,727.52L587.74,730.40L588.23,733.17L588.72,735.84L589.21,738.40L589.71,740.87L590.20,743.26L590.69,745.57L591.19,747.82L591.68,750.06L592.17,752.27L592.67,754.43L593.16,756.53L593.65,758.56L594.14,760.50L594.64,762.33L595.13,764.03L595.62,765.64L596.12,767.25L596.61,768.86L597.10,770.46L597.60,772.03L598.09,773.54L598.58,774.98L599.07,776.31L599.57,777.53L600.06,778.59L600.55,779.57L601.05,780.54L601.54,781.48L602.03,782.38L602.53,783.22L603.02,783.98L603.51,784.65L604.00,785.21L604.50,785.65L604.99,785.96L605.48,786.14L605.98,786.18L606.47,786.08L606.96,785.86L607.45,785.50L607.95,784.97L608.44,784.30L608.93,783.52L609.43,782.64L609.92,781.69L610.41,780.70L610.91,779.68L611.40,778.65L611.89,777.62L612.38,776.62L612.88,775.66L613.37,774.73L613.86,773.78L614.36,772.75L614.85,771.65L615.34,770.48L615.84,769.27L616.33,768.02L616.82,766.75L617.31,765.47L617.81,764.20L618.30,762.95L618.79,761.73L619.29,760.55L619.78,759.34L620.27,758.11L620.77,756.87L621.26,755.61L621.75,754.35L622.24,753.08L622.74,751.82L623.23,750.56L623.72,749.32L624.22,748.10L624.71,746.91L625.20,745.74L625.70,744.57L626.19,743.40L626.68,742.24L627.17,741.08L627.67,739.94L628.16,738.81L628.65,737.71L629.15,736.62L629.64,735.56L630.13,734.52L630.63,733.52L631.12,732.55L631.61,731.60L632.10,730.65L632.60,729.73L633.09,728.82L633.58,727.93L633.80,727.55" stroke="#0000ff" stroke-width="7.6" stroke-dasharray="40.820 9.016 7.134 9.016" stroke-dashoffset="40.820"/>
<path d="M633.80,727.55L634.08,727.06L634.57,726.21L635.06,725.39L635.56,724.59L636.05,723.82L636.54,723.07L637.03,722.35L637.53,721.62L638.02,720.88L638.51,720.15L639.01,719.43L639.50,718.74L639.99,718.07L640.48,717.45L640.98,716.87L641.47,716.36L641.96,715.90L642.46,715.53L642.95,715.22L643.44,714.92L643.94,714.62L644.43,714.34L644.92,714.06L645.41,713.80L645.91,713.56L646.40,713.33L646.89,713.12L647.39,712.94L647.88,712.78L648.37,712.65L648.87,712.55L649.36,712.48L649.85,712.45L650.34,712.46L650.84,712.53L651.33,712.65L651.82,712.83L652.32,713.05L652.81,713.31L653.30,713.61L653.80,713.94L654.29,714.29L654.78,714.67L655.27,715.07L655.77,715.48L656.26,715.89L656.75,716.31L657.25,716.73L657.74,717.16L658.23,717.65L658.73,718.19L659.22,718.79L659.71,719.43L660.20,720.11L660.70,720.82L661.19,721.56L661.68,722.32L662.18,723.09L662.67,723.87L663.16,724.66L663.66,725.44L664.15,726.21L664.64,726.97L665.13,727.71L665.63,728.47L666.12,729.24L666.61,730.03L667.11,730.83L667.60,731.64L668.09,732.45L668.59,733.26L669.08,734.08L669.57,734.89L670.06,735.69L670.56,736.49L671.05,737.27L671.54,738.05L672.04,738.80L672.53,739.54L673.02,740.29L673.52,741.04L674.01,741.80L674.50,742.56L674.99,743.31L675.49,744.05L675.98,744.78L676.47,745.50L676.70,745.82" stroke="#0000ff" stroke-width="7.6" stroke-dasharray="41.303 9.123 7.218 9.123" stroke-dashoffset="41.303"/>
<path d="M676.70,745.82L676.97,746.19L677.46,746.86L677.95,747.51L678.44,748.12L678.94,748.69L679.43,749.23L679.92,749.74L680.42,750.23L680.91,750.72L681.40,751.20L681.90,751.66L682.39,752.11L682.88,752.55L683.37,752.97L683.87,753.37L684.36,753.75L684.85,754.10L685.35,754.43L685.84,754.73L686.33,755.01L686.83,755.25L687.32,755.47L687.81,755.68L688.30,755.90L688.80,756.11L689.29,756.31L689.78,756.51L690.28,756.69L690.77,756.87L691.26,757.02L691.76,757.16L692.25,757.29L692.74,757.39L693.23,757.47L693.73,757.52L694.22,757.54L694.71,757.54L695.21,757.52L695.70,757.49L696.19,757.44L696.69,757.38L697.18,757.30L697.67,757.21L698.16,757.11L698.66,757.00L699.15,756.88L699.64,756.74L700.14,756.60L700.63,756.45L701.12,756.29L701.62,756.13L702.11,755.93L702.60,755.63L703.09,755.23L703.59,754.76L704.08,754.22L704.57,753.64L705.07,753.02L705.56,752.39L706.05,751.76L706.55,751.14L707.04,750.55L707.53,750.00L708.02,749.47L708.52,748.94L709.01,748.40L709.50,747.86L710.00,747.32L710.49,746.77L710.98,746.23L711.47,745.68L711.97,745.14L712.46,744.59L712.95,744.04L713.45,743.50L713.94,742.95L714.43,742.41L714.93,741.87L715.42,741.32L715.91,740.77L716.40,740.22L716.90,739.66L717.39,739.10L717.88,738.54L718.38,737.98L718.87,737.41L719.36,736.85L719.86,736.28L720.35,735.71L720.84,735.15L721.33,734.59L721.83,734.03L722.32,733.47L722.81,732.91L723.31,732.36L723.80,731.82L724.29,731.27L724.79,730.74L725.28,730.21L725.77,729.68L726.26,729.16L726.50,728.91" stroke="#0000ff" stroke-width="7.6" stroke-dasharray="41.010 9.058 7.167 9.058" stroke-dashoffset="41.010"/>
<path d="M726.50,728.91L726.76,728.65L727.25,728.14L727.74,727.64L728.24,727.15L728.73,726.67L729.22,726.20L729.72,725.74L730.21,725.27L730.70,724.81L731.19,724.34L731.69,723.87L732.18,723.41L732.67,722.95L733.17,722.49L733.66,722.03L734.15,721.59L734.65,721.15L735.14,720.72L735.63,720.30L736.12,719.90L736.62,719.50L737.11,719.13L737.60,718.76L738.10,718.42L738.59,718.10L739.08,717.79L739.58,717.51L740.07,717.25L740.56,717.00L741.05,716.75L741.55,716.51L742.04,716.28L742.53,716.05L743.03,715.83L743.52,715.62L744.01,715.42L744.51,715.23L745.00,715.05L745.49,714.87L745.98,714.71L746.48,714.55L746.97,714.41L747.46,714.28L747.96,714.16L748.45,714.05L748.94,713.96L749.43,713.87L749.93,713.78L750.42,713.68L750.91,713.60L751.41,713.51L751.90,713.43L752.39,713.36L752.89,713.29L753.38,713.23L753.87,713.18L754.36,713.14L754.86,713.12L755.35,713.10L755.84,713.11L756.34,713.12L756.83,713.14L757.32,713.17L757.82,713.20L758.31,713.23L758.80,713.26L759.29,713.29L759.79,713.33L760.28,713.37L760.77,713.41L761.27,713.45L761.76,713.49L762.25,713.54L762.75,713.58L763.24,713.63L763.73,713.67L764.22,713.72L764.72,713.76L765.21,713.81L765.70,713.85L766.20,713.90L766.69,713.95L767.18,713.99L767.68,714.04L768.17,714.09L768.66,714.15L769.15,714.20L769.65,714.26L770.14,714.32L770.63,714.38L771.13,714.45L771.62,714.51L772.11,714.58L772.61,714.65L773.10,714.72L773.59,714.79L774.08,714.86L774.58,714.93L775.07,715.00L775.56,715.08L776.06,715.15L776.55,715.23L777.04,715.31L777.54,715.38L778.03,715.46L778.52,715.54L779.01,715.61L779.51,715.69L780.00,715.77L783.50,716.32" stroke="#0000ff" stroke-width="7.6" stroke-dasharray="38.528 8.510 6.733 8.510" stroke-dashoffset="38.528"/>
<path d="M783.50,716.32L783.85,716.37L787.69,716.96L791.54,717.52L795.38,718.12L799.23,718.72L803.08,719.27L806.92,719.81L810.77,720.40L814.62,720.95L818.46,721.36L822.31,721.54L826.15,721.47L830.00,721.22L833.85,720.86L837.69,720.41L841.54,719.91L845.38,719.15L849.23,718.14L850.10,717.88" stroke="#0000ff" stroke-width="7.6" stroke-dasharray="41.630 9.195 7.275 9.195" stroke-dashoffset="41.630"/>
<path d="M850.10,717.88L853.08,717.01L856.92,715.85L860.77,714.49L864.62,713.04L868.46,711.68L872.31,710.52L876.15,709.39L880.00,708.39L883.85,707.63L887.69,707.13L891.54,706.71L895.38,706.48L899.23,706.52L903.08,706.77L906.92,707.16L910.77,707.60L913.70,708.17" stroke="#0000ff" stroke-width="7.6" stroke-dasharray="40.416 8.927 7.063 8.927" stroke-dashoffset="40.416"/>
<path d="M913.70,708.17L914.62,708.34L918.46,709.20L922.31,709.76L926.15,710.10L930.00,710.36L933.85,710.45L937.69,710.33L941.54,710.04L945.38,709.65L949.23,709.21L953.08,708.77L956.92,708.23L960.77,707.61L964.62,706.99L968.46,706.40L972.31,705.79L976.15,705.19L979.50,704.72" stroke="#0000ff" stroke-width="7.6" stroke-dasharray="41.057 9.068 7.175 9.068" stroke-dashoffset="41.057"/>
<path d="M979.50,704.72L980.00,704.65L983.85,704.16L987.69,703.65L991.54,703.25L995.38,703.06L999.23,703.08L1003.08,703.10L1006.92,703.09L1010.77,703.06L1014.62,703.03L1018.46,702.99L1022.31,702.95L1026.15,702.90L1030.00,702.85L1033.85,702.81L1037.69,702.77L1041.54,702.73L1045.38,702.71L1049.23,702.70L1053.08,702.71L1056.92,702.74L1060.77,702.78L1064.62,702.85L1068.46,702.93L1072.31,703.01L1076.15,703.11L1080.00,703.21L1083.85,703.31L1087.69,703.42L1091.54,703.51L1095.38,703.62L1099.23,703.73L1103.08,703.84L1106.92,703.97L1110.77,704.10L1114.62,704.24L1118.46,704.38L1122.31,704.53L1126.15,704.68L1130.00,704.84L1133.85,704.99L1137.69,705.16L1141.54,705.32L1145.38,705.48L1149.23,705.65L1153.08,705.81L1156.92,705.98L1160.77,706.15L1164.62,706.32L1168.46,706.49L1172.31,706.68L1176.15,706.86L1180.00,707.05L1183.85,707.24L1187.69,707.43L1191.54,707.63L1195.38,707.83L1199.23,708.03L1203.08,708.23L1206.92,708.43L1210.77,708.63L1214.62,708.83L1218.46,709.03L1222.31,709.23L1226.15,709.43L1230.00,709.63L1233.85,709.82L1237.69,710.02L1241.54,710.22L1245.38,710.42L1249.23,710.62L1253.08,710.82L1256.92,711.01L1260.77,711.21L1264.62,711.41L1268.46,711.61L1272.31,711.81L1276.15,712.01L1280.00,712.20L1283.85,712.40L1287.69,712.60L1291.54,712.81L1295.38,713.03L1299.23,713.24L1303.08,713.46L1306.92,713.67L1310.77,713.89L1314.62,714.10L1318.46,714.30L1322.31,714.50L1326.15,714.69L1330.00,714.87L1333.85,715.04L1337.69,715.19L1341.54,715.34L1345.38,715.46L1349.23,715.58L1353.08,715.68L1356.92,715.79L1360.77,715.89L1364.62,716.00L1368.46,716.10L1372.31,716.20L1376.15,716.29L1380.00,716.38L1383.85,716.47L1387.69,716.55L1391.54,716.62L1395.38,716.69L1399.23,716.74L1403.08,716.79L1406.92,716.83L1410.77,716.86L1414.62,716.88L1418.46,716.89L1422.31,716.88L1426.15,716.87L1430.00,716.85L1433.85,716.82L1437.69,716.79L1441.54,716.76L1445.38,716.72L1449.23,716.68L1453.08,716.63L1456.92,716.58L1460.77,716.53L1464.62,716.47L1468.46,716.41L1472.31,716.35L1476.15,716.28L1480.00,716.22L1483.85,716.15L1487.69,716.08L1491.54,716.01L1495.38,715.94L1499.23,715.87L1503.08,715.78L1506.92,715.69L1510.77,715.59L1514.62,715.47L1518.46,715.36L1522.31,715.23L1526.15,715.10L1530.00,714.96L1533.85,714.82L1537.69,714.67L1541.54,714.52L1545.38,714.36L1549.23,714.21L1553.08,714.05L1556.92,713.89L1560.77,713.74L1564.62,713.57L1568.46,713.39L1572.31,713.20L1576.15,713.00L1580.00,712.79L1583.85,712.58L1587.69,712.37L1591.54,712.15L1595.38,711.94L1599.23,711.73L1603.08,711.52L1606.92,711.32L1610.77,711.13L1614.62,710.94L1618.46,710.76L1622.31,710.58L1626.15,710.41L1630.00,710.23L1633.85,710.06L1637.69,709.88L1641.54,709.71L1645.38,709.54L1649.23,709.38L1653.08,709.21L1656.92,709.05L1660.77,708.89L1664.62,708.74L1668.46,708.59L1672.31,708.44L1676.15,708.29L1680.00,708.15L1683.85,708.01L1687.69,707.88L1691.54,707.75L1695.38,707.62L1699.23,707.49L1703.08,707.36L1706.92,707.23L1710.77,707.11L1714.62,706.98L1718.46,706.86L1722.31,706.74L1726.15,706.63L1730.00,706.51L1733.85,706.41L1737.69,706.31L1741.54,706.21L1745.38,706.12L1749.23,706.04L1753.08,705.96L1756.92,705.89L1760.77,705.83L1764.62,705.77L1768.46,705.71L1772.31,705.65L1773.90,705.63" stroke="#0000ff" stroke-width="7.6" stroke-dasharray="40.985 9.052 7.162 9.052" stroke-dashoffset="40.985"/>
<path d="M1773.90,705.63L1776.15,705.60L1780.00,705.54L1783.85,705.49L1787.69,705.43L1791.54,705.38L1795.38,705.33L1799.23,705.28L1803.08,705.24L1806.92,705.20L1810.77,705.16L1814.62,705.13L1818.46,705.09L1822.31,705.07L1826.15,705.05L1830.00,705.03L1833.85,705.02L1837.69,705.01L1841.20,705.01" stroke="#0000ff" stroke-width="7.6" stroke-dasharray="41.635 9.196 7.276 9.196" stroke-dashoffset="41.635"/>
<path d="M1841.20,705.01L1841.54,705.01L1845.38,705.01L1849.23,705.01L1853.08,705.01L1856.92,705.01L1860.77,705.01L1864.62,705.01L1868.46,705.01L1872.31,705.01L1876.15,705.01L1880.00,705.01L1883.85,705.01L1887.69,705.01L1891.54,705.01L1895.38,705.01L1899.23,705.01L1903.08,705.01L1906.92,705.01L1910.77,704.99L1914.62,704.96L1918.46,704.93L1922.31,704.89L1926.15,704.85L1930.00,704.81" stroke="#0000ff" stroke-width="7.6" stroke-dasharray="41.200 9.100 7.200 9.100" stroke-dashoffset="41.200"/>
</g>
<g shape-rendering="crispEdges">
<rect x="488" y="430" width="4" height="367" fill="#000"/>
<rect x="1902" y="430" width="5" height="367" fill="#000"/>
<rect x="488" y="430" width="1419" height="4" fill="#000"/>
<rect x="488" y="792" width="1419" height="5" fill="#000"/>
<rect x="533" y="797" width="4" height="12" fill="#000"/>
<rect x="990" y="797" width="4" height="12" fill="#000"/>
<rect x="1446" y="797" width="4" height="12" fill="#000"/>
<rect x="1902" y="797" width="5" height="12" fill="#000"/>
<rect x="475" y="768" width="13" height="4" fill="#000"/>
<rect x="475" y="648" width="13" height="4" fill="#000"/>
<rect x="475" y="527" width="13" height="4" fill="#000"/>
</g>
<line x1="1258.7" y1="86.2" x2="1367.2" y2="86.2" stroke="#ff0000" stroke-width="6.9"/>
<line x1="1701.9" y1="86.2" x2="1803" y2="86.2" stroke="#0000ff" stroke-width="6.9" stroke-dasharray="41 9 7.25 9"/>
<g font-family="'Liberation Serif', 'Times New Roman', serif" fill="#000" stroke="#000" stroke-width="0.7" stroke-linejoin="round" font-size="76.0px">
<text x="283.93" y="1011.5" text-anchor="middle">1</text>
<text x="578.60" y="1011.5" text-anchor="middle">2</text>
<text x="873.27" y="1011.5" text-anchor="middle">3</text>
<text x="1167.93" y="1011.5" text-anchor="middle">4</text>
<text x="1462.60" y="1011.5" text-anchor="middle">5</text>
<text x="1757.27" y="1011.5" text-anchor="middle">6</text>
<text x="196.5" y="956.00" text-anchor="end">0.5</text>
<text x="196.5" y="767.25" text-anchor="end">0.6</text>
<text x="196.5" y="578.50" text-anchor="end">0.7</text>
<text x="196.5" y="389.75" text-anchor="end">0.8</text>
<text x="196.5" y="201.00" text-anchor="end">0.9</text>
<text x="535.63" y="876.5" text-anchor="middle">1.00</text>
<text x="991.92" y="876.5" text-anchor="middle">1.01</text>
<text x="1448.21" y="876.5" text-anchor="middle">1.02</text>
<text x="1904.50" y="876.5" text-anchor="middle">1.03</text>
<text x="461.5" y="796.33" text-anchor="end">0.7</text>
<text x="461.5" y="675.50" text-anchor="end">0.8</text>
<text x="461.5" y="554.67" text-anchor="end">0.9</text>
<text x="1109.8" y="1096" text-anchor="middle" font-size="75.2px">Time (s)</text>
<text transform="translate(68.2,478.0) rotate(-90)" text-anchor="middle" font-size="75.2px">Active Power(pu)</text>
<text x="1402" y="104.3" font-size="50.4px" stroke-width="0.5">DP model</text>
<text x="1842.3" y="104.3" font-size="50.4px" stroke-width="0.5">EMT</text>
</g>
</svg>
</body>
</html>
